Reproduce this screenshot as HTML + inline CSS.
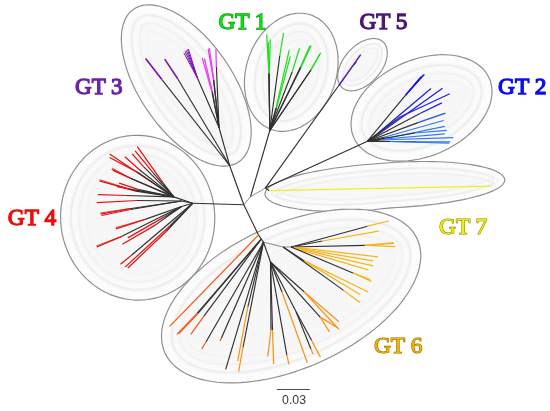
<!DOCTYPE html>
<html><head><meta charset="utf-8"><style>
html,body{margin:0;padding:0;background:#fff;width:550px;height:411px;overflow:hidden}
svg{display:block}
.lb{font-family:"Liberation Serif",serif;font-weight:normal;font-size:24px}
.sc{font-family:"Liberation Sans",sans-serif;font-size:13.3px;fill:#3a3a3a}
</style></head><body>
<svg width="550" height="411" viewBox="0 0 550 411">
<rect width="550" height="411" fill="#fff"/>
<path d="M239.0 161.7 L236.9 163.0 L234.7 164.1 L232.4 164.9 L229.9 165.5 L227.3 165.9 L224.6 166.1 L221.9 166.1 L219.0 165.8 L216.0 165.3 L212.9 164.6 L209.8 163.7 L206.6 162.6 L203.3 161.3 L200.0 159.7 L196.7 158.0 L193.3 156.0 L189.9 153.9 L186.5 151.5 L183.1 149.0 L179.7 146.3 L176.4 143.5 L173.0 140.5 L169.7 137.3 L166.4 134.0 L163.2 130.6 L160.1 127.0 L157.0 123.3 L154.0 119.5 L151.1 115.7 L148.3 111.7 L145.6 107.7 L143.0 103.6 L140.5 99.5 L138.2 95.3 L135.9 91.1 L133.9 86.9 L131.9 82.6 L130.1 78.4 L128.5 74.2 L127.0 70.1 L125.7 65.9 L124.6 61.9 L123.6 57.9 L122.8 53.9 L122.1 50.1 L121.7 46.3 L121.4 42.7 L121.3 39.2 L121.4 35.8 L121.6 32.5 L122.1 29.4 L122.7 26.5 L123.5 23.7 L124.4 21.0 L125.5 18.6 L126.8 16.3 L128.3 14.2 L129.9 12.4 L131.6 10.7 L133.6 9.2 L135.6 7.9 L137.8 6.9 L140.1 6.0 L142.6 5.4 L145.2 5.0 L147.9 4.8 L150.7 4.9 L153.6 5.1 L156.5 5.6 L159.6 6.3 L162.7 7.2 L165.9 8.4 L169.2 9.7 L172.5 11.2 L175.8 13.0 L179.2 14.9 L182.6 17.1 L186.0 19.4 L189.4 21.9 L192.8 24.6 L196.2 27.5 L199.5 30.5 L202.8 33.6 L206.1 37.0 L209.3 40.4 L212.4 44.0 L215.5 47.6 L218.5 51.4 L221.4 55.3 L224.2 59.2 L226.9 63.3 L229.5 67.4 L232.0 71.5 L234.4 75.7 L236.6 79.9 L238.7 84.1 L240.6 88.3 L242.4 92.5 L244.0 96.7 L245.5 100.9 L246.8 105.0 L247.9 109.1 L248.9 113.1 L249.7 117.0 L250.4 120.9 L250.8 124.6 L251.1 128.2 L251.2 131.8 L251.1 135.2 L250.9 138.4 L250.4 141.5 L249.8 144.5 L249.1 147.3 L248.1 149.9 L247.0 152.4 L245.7 154.6 L244.2 156.7 L242.6 158.6 L240.9 160.3Z" fill="#f7f7f7" stroke="none"/>
<path d="M236.4 158.0 L234.7 159.1 L233.0 159.9 L231.1 160.6 L229.0 161.1 L226.8 161.5 L224.5 161.6 L222.1 161.6 L219.5 161.4 L216.8 160.9 L214.0 160.3 L211.2 159.4 L208.2 158.4 L205.1 157.1 L202.0 155.7 L198.9 154.0 L195.6 152.2 L192.4 150.1 L189.1 147.9 L185.9 145.4 L182.6 142.8 L179.3 140.1 L176.1 137.2 L172.9 134.1 L169.7 130.9 L166.6 127.5 L163.5 124.1 L160.5 120.5 L157.6 116.8 L154.7 113.0 L152.0 109.2 L149.4 105.2 L146.8 101.2 L144.4 97.2 L142.1 93.1 L140.0 89.0 L137.9 84.9 L136.0 80.8 L134.3 76.7 L132.7 72.7 L131.3 68.6 L130.0 64.6 L128.9 60.7 L128.0 56.9 L127.2 53.1 L126.6 49.5 L126.2 45.9 L125.9 42.5 L125.8 39.2 L125.9 36.0 L126.1 33.0 L126.5 30.2 L127.0 27.5 L127.7 25.0 L128.6 22.7 L129.5 20.6 L130.6 18.7 L131.8 17.0 L133.1 15.5 L134.6 14.1 L136.1 12.9 L137.8 11.9 L139.6 11.0 L141.5 10.3 L143.5 9.8 L145.7 9.5 L148.0 9.3 L150.4 9.4 L153.0 9.6 L155.7 10.0 L158.5 10.7 L161.4 11.5 L164.3 12.6 L167.4 13.8 L170.5 15.3 L173.7 16.9 L176.9 18.8 L180.1 20.8 L183.4 23.1 L186.7 25.5 L189.9 28.1 L193.2 30.9 L196.4 33.8 L199.7 36.9 L202.8 40.1 L206.0 43.4 L209.0 46.9 L212.0 50.5 L214.9 54.2 L217.8 57.9 L220.5 61.8 L223.2 65.7 L225.7 69.7 L228.1 73.8 L230.4 77.8 L232.6 81.9 L234.6 86.0 L236.5 90.1 L238.2 94.2 L239.8 98.3 L241.2 102.3 L242.5 106.3 L243.6 110.2 L244.5 114.1 L245.3 117.8 L245.9 121.5 L246.3 125.0 L246.6 128.5 L246.7 131.8 L246.6 134.9 L246.4 137.9 L246.0 140.8 L245.5 143.4 L244.8 145.9 L243.9 148.2 L243.0 150.3 L241.9 152.2 L240.7 153.9 L239.4 155.5 L237.9 156.9Z" fill="none" stroke="#fcfcfc" stroke-width="7.0"/>
<path d="M233.0 153.1 L231.9 153.8 L230.6 154.4 L229.3 154.9 L227.8 155.2 L226.2 155.5 L224.4 155.6 L222.4 155.6 L220.3 155.4 L218.0 155.0 L215.6 154.5 L213.0 153.7 L210.3 152.8 L207.6 151.6 L204.7 150.3 L201.7 148.8 L198.7 147.0 L195.7 145.1 L192.6 143.0 L189.5 140.7 L186.4 138.2 L183.3 135.6 L180.2 132.8 L177.1 129.8 L174.0 126.7 L171.0 123.5 L168.0 120.1 L165.1 116.7 L162.3 113.1 L159.6 109.5 L156.9 105.7 L154.4 101.9 L151.9 98.1 L149.6 94.2 L147.4 90.3 L145.3 86.3 L143.3 82.3 L141.5 78.4 L139.9 74.5 L138.3 70.6 L137.0 66.7 L135.8 62.9 L134.7 59.2 L133.8 55.6 L133.1 52.0 L132.5 48.6 L132.1 45.3 L131.9 42.1 L131.8 39.1 L131.9 36.3 L132.1 33.7 L132.4 31.2 L132.9 28.9 L133.5 26.9 L134.1 25.0 L134.9 23.4 L135.7 21.9 L136.6 20.7 L137.5 19.6 L138.5 18.6 L139.5 17.8 L140.6 17.2 L141.9 16.6 L143.2 16.1 L144.7 15.7 L146.3 15.4 L148.1 15.3 L150.1 15.4 L152.2 15.5 L154.5 15.9 L157.0 16.5 L159.5 17.2 L162.2 18.2 L165.0 19.3 L167.8 20.6 L170.8 22.2 L173.8 23.9 L176.8 25.9 L179.9 28.0 L183.0 30.3 L186.1 32.7 L189.3 35.4 L192.4 38.2 L195.5 41.1 L198.5 44.2 L201.5 47.5 L204.5 50.8 L207.4 54.3 L210.2 57.8 L212.9 61.5 L215.6 65.2 L218.1 69.0 L220.6 72.9 L222.9 76.8 L225.1 80.7 L227.2 84.6 L229.2 88.6 L231.0 92.6 L232.7 96.5 L234.2 100.4 L235.5 104.2 L236.7 108.0 L237.8 111.8 L238.7 115.4 L239.4 118.9 L240.0 122.3 L240.4 125.6 L240.6 128.8 L240.7 131.8 L240.6 134.6 L240.4 137.3 L240.1 139.8 L239.6 142.0 L239.1 144.1 L238.4 145.9 L237.6 147.6 L236.8 149.0 L235.9 150.3 L235.0 151.4 L234.0 152.3Z" fill="none" stroke="#eeeeee" stroke-width="1.8"/>
<path d="M231.0 150.2 L230.2 150.7 L229.3 151.2 L228.3 151.5 L227.1 151.8 L225.8 152.0 L224.3 152.1 L222.6 152.1 L220.7 151.9 L218.7 151.6 L216.4 151.1 L214.1 150.4 L211.6 149.5 L209.0 148.4 L206.2 147.2 L203.4 145.7 L200.6 144.0 L197.6 142.2 L194.6 140.1 L191.6 137.9 L188.6 135.5 L185.6 132.9 L182.5 130.2 L179.5 127.3 L176.5 124.3 L173.6 121.1 L170.7 117.9 L167.9 114.5 L165.1 111.0 L162.4 107.4 L159.8 103.8 L157.3 100.0 L154.9 96.2 L152.6 92.4 L150.5 88.6 L148.4 84.7 L146.5 80.8 L144.7 77.0 L143.1 73.1 L141.6 69.3 L140.3 65.6 L139.1 61.9 L138.1 58.3 L137.2 54.8 L136.5 51.4 L136.0 48.1 L135.6 45.0 L135.4 42.0 L135.3 39.1 L135.4 36.5 L135.6 34.0 L135.9 31.8 L136.3 29.7 L136.8 27.9 L137.4 26.3 L138.0 25.0 L138.7 23.8 L139.3 22.8 L140.0 22.0 L140.8 21.3 L141.5 20.7 L142.3 20.2 L143.2 19.8 L144.2 19.4 L145.4 19.1 L146.7 18.9 L148.2 18.8 L149.9 18.9 L151.8 19.0 L153.9 19.3 L156.1 19.9 L158.4 20.5 L160.9 21.4 L163.5 22.5 L166.3 23.8 L169.1 25.3 L172.0 26.9 L174.9 28.8 L177.9 30.8 L180.9 33.0 L183.9 35.4 L187.0 38.0 L190.0 40.7 L193.0 43.6 L196.0 46.7 L198.9 49.8 L201.8 53.1 L204.7 56.5 L207.4 60.0 L210.1 63.5 L212.7 67.2 L215.2 70.9 L217.6 74.7 L219.9 78.5 L222.1 82.4 L224.1 86.2 L226.0 90.1 L227.8 94.0 L229.4 97.8 L230.9 101.6 L232.2 105.4 L233.4 109.0 L234.4 112.6 L235.3 116.2 L236.0 119.6 L236.5 122.8 L236.9 126.0 L237.1 129.0 L237.2 131.8 L237.1 134.5 L237.0 136.9 L236.6 139.2 L236.2 141.2 L235.7 143.0 L235.1 144.6 L234.5 146.0 L233.9 147.2 L233.2 148.1 L232.5 149.0 L231.8 149.6Z" fill="none" stroke="#fafafa" stroke-width="4.0"/>
<path d="M228.4 146.5 L228.0 146.8 L227.6 147.0 L227.0 147.2 L226.2 147.4 L225.3 147.5 L224.2 147.6 L222.8 147.6 L221.3 147.5 L219.5 147.2 L217.6 146.7 L215.5 146.1 L213.2 145.3 L210.8 144.3 L208.2 143.1 L205.6 141.8 L202.9 140.2 L200.1 138.4 L197.3 136.5 L194.4 134.3 L191.5 132.0 L188.5 129.5 L185.6 126.9 L182.7 124.1 L179.8 121.2 L176.9 118.1 L174.1 114.9 L171.3 111.6 L168.7 108.2 L166.0 104.8 L163.5 101.2 L161.1 97.6 L158.7 93.9 L156.5 90.2 L154.4 86.4 L152.4 82.7 L150.6 78.9 L148.8 75.2 L147.3 71.4 L145.8 67.8 L144.6 64.2 L143.4 60.6 L142.5 57.2 L141.6 53.8 L141.0 50.6 L140.5 47.5 L140.1 44.5 L139.9 41.7 L139.8 39.1 L139.9 36.7 L140.0 34.5 L140.3 32.5 L140.7 30.8 L141.1 29.3 L141.5 28.0 L142.0 27.0 L142.5 26.2 L142.9 25.6 L143.3 25.1 L143.7 24.7 L144.1 24.4 L144.5 24.2 L145.0 23.9 L145.6 23.7 L146.3 23.5 L147.2 23.4 L148.4 23.3 L149.7 23.3 L151.2 23.5 L153.0 23.8 L154.9 24.2 L157.1 24.8 L159.3 25.6 L161.7 26.6 L164.3 27.8 L166.9 29.2 L169.6 30.8 L172.4 32.5 L175.3 34.5 L178.1 36.6 L181.1 38.9 L184.0 41.4 L186.9 44.0 L189.8 46.8 L192.7 49.8 L195.6 52.8 L198.4 56.0 L201.2 59.3 L203.9 62.7 L206.5 66.2 L209.0 69.8 L211.4 73.4 L213.8 77.1 L216.0 80.8 L218.1 84.5 L220.1 88.3 L221.9 92.0 L223.7 95.8 L225.2 99.5 L226.7 103.2 L228.0 106.8 L229.1 110.3 L230.1 113.8 L230.9 117.1 L231.5 120.4 L232.1 123.5 L232.4 126.4 L232.6 129.2 L232.7 131.8 L232.7 134.2 L232.5 136.4 L232.2 138.4 L231.9 140.1 L231.4 141.6 L231.0 142.9 L230.5 143.9 L230.1 144.8 L229.6 145.4 L229.2 145.9 L228.8 146.2Z" fill="none" stroke="#f1f1f1" stroke-width="1.6"/>
<path d="M224.2 140.4 L224.4 140.2 L224.7 140.1 L224.8 140.0 L224.7 140.1 L224.5 140.1 L224.0 140.1 L223.2 140.1 L222.2 140.0 L220.9 139.8 L219.5 139.5 L217.8 139.0 L215.9 138.3 L213.8 137.5 L211.6 136.4 L209.2 135.2 L206.8 133.8 L204.2 132.2 L201.6 130.4 L198.9 128.4 L196.2 126.2 L193.5 123.9 L190.7 121.4 L187.9 118.8 L185.2 116.0 L182.5 113.1 L179.8 110.0 L177.2 106.9 L174.6 103.7 L172.1 100.3 L169.7 96.9 L167.4 93.5 L165.1 90.0 L163.0 86.4 L161.0 82.8 L159.1 79.3 L157.3 75.7 L155.7 72.1 L154.2 68.6 L152.9 65.2 L151.7 61.8 L150.6 58.5 L149.7 55.2 L149.0 52.2 L148.3 49.2 L147.9 46.4 L147.6 43.8 L147.4 41.3 L147.3 39.1 L147.3 37.1 L147.5 35.3 L147.7 33.8 L147.9 32.6 L148.2 31.6 L148.5 30.9 L148.7 30.4 L148.8 30.2 L148.8 30.1 L148.8 30.2 L148.6 30.4 L148.3 30.6 L148.1 30.8 L147.9 30.9 L147.7 30.9 L147.8 30.9 L148.1 30.9 L148.6 30.8 L149.3 30.8 L150.3 30.9 L151.6 31.1 L153.1 31.5 L154.8 32.0 L156.6 32.6 L158.7 33.5 L160.9 34.5 L163.3 35.8 L165.7 37.2 L168.3 38.8 L170.9 40.6 L173.6 42.6 L176.3 44.7 L179.1 47.1 L181.8 49.5 L184.6 52.2 L187.3 55.0 L190.0 57.9 L192.7 60.9 L195.4 64.0 L197.9 67.3 L200.4 70.6 L202.8 74.0 L205.2 77.5 L207.4 81.0 L209.5 84.5 L211.5 88.1 L213.4 91.7 L215.2 95.3 L216.8 98.8 L218.3 102.3 L219.6 105.8 L220.8 109.2 L221.9 112.5 L222.8 115.7 L223.6 118.8 L224.2 121.8 L224.6 124.6 L225.0 127.2 L225.1 129.6 L225.2 131.9 L225.2 133.9 L225.0 135.6 L224.8 137.1 L224.6 138.4 L224.3 139.4 L224.0 140.1 L223.8 140.5 L223.7 140.8 L223.7 140.8 L223.8 140.7 L223.9 140.5Z" fill="none" stroke="#f3f3f3" stroke-width="1.5"/>
<path d="M239.0 161.7 L236.9 163.0 L234.7 164.1 L232.4 164.9 L229.9 165.5 L227.3 165.9 L224.6 166.1 L221.9 166.1 L219.0 165.8 L216.0 165.3 L212.9 164.6 L209.8 163.7 L206.6 162.6 L203.3 161.3 L200.0 159.7 L196.7 158.0 L193.3 156.0 L189.9 153.9 L186.5 151.5 L183.1 149.0 L179.7 146.3 L176.4 143.5 L173.0 140.5 L169.7 137.3 L166.4 134.0 L163.2 130.6 L160.1 127.0 L157.0 123.3 L154.0 119.5 L151.1 115.7 L148.3 111.7 L145.6 107.7 L143.0 103.6 L140.5 99.5 L138.2 95.3 L135.9 91.1 L133.9 86.9 L131.9 82.6 L130.1 78.4 L128.5 74.2 L127.0 70.1 L125.7 65.9 L124.6 61.9 L123.6 57.9 L122.8 53.9 L122.1 50.1 L121.7 46.3 L121.4 42.7 L121.3 39.2 L121.4 35.8 L121.6 32.5 L122.1 29.4 L122.7 26.5 L123.5 23.7 L124.4 21.0 L125.5 18.6 L126.8 16.3 L128.3 14.2 L129.9 12.4 L131.6 10.7 L133.6 9.2 L135.6 7.9 L137.8 6.9 L140.1 6.0 L142.6 5.4 L145.2 5.0 L147.9 4.8 L150.7 4.9 L153.6 5.1 L156.5 5.6 L159.6 6.3 L162.7 7.2 L165.9 8.4 L169.2 9.7 L172.5 11.2 L175.8 13.0 L179.2 14.9 L182.6 17.1 L186.0 19.4 L189.4 21.9 L192.8 24.6 L196.2 27.5 L199.5 30.5 L202.8 33.6 L206.1 37.0 L209.3 40.4 L212.4 44.0 L215.5 47.6 L218.5 51.4 L221.4 55.3 L224.2 59.2 L226.9 63.3 L229.5 67.4 L232.0 71.5 L234.4 75.7 L236.6 79.9 L238.7 84.1 L240.6 88.3 L242.4 92.5 L244.0 96.7 L245.5 100.9 L246.8 105.0 L247.9 109.1 L248.9 113.1 L249.7 117.0 L250.4 120.9 L250.8 124.6 L251.1 128.2 L251.2 131.8 L251.1 135.2 L250.9 138.4 L250.4 141.5 L249.8 144.5 L249.1 147.3 L248.1 149.9 L247.0 152.4 L245.7 154.6 L244.2 156.7 L242.6 158.6 L240.9 160.3Z" fill="none" stroke="#8e8e8e" stroke-width="1.15"/>
<path d="M311.0 15.0 L313.2 15.9 L315.3 16.9 L317.4 18.0 L319.4 19.3 L321.3 20.8 L323.1 22.4 L324.9 24.1 L326.6 25.9 L328.1 27.9 L329.6 30.0 L331.0 32.2 L332.2 34.6 L333.3 37.0 L334.4 39.5 L335.3 42.2 L336.1 44.9 L336.7 47.6 L337.3 50.5 L337.7 53.4 L338.0 56.3 L338.1 59.3 L338.1 62.4 L338.0 65.4 L337.8 68.5 L337.4 71.6 L337.0 74.7 L336.4 77.8 L335.6 80.8 L334.8 83.9 L333.8 86.9 L332.7 89.9 L331.5 92.8 L330.2 95.7 L328.8 98.5 L327.2 101.2 L325.6 103.9 L323.9 106.4 L322.1 108.9 L320.2 111.3 L318.2 113.5 L316.2 115.7 L314.1 117.7 L311.9 119.6 L309.7 121.4 L307.4 123.1 L305.1 124.6 L302.7 125.9 L300.3 127.2 L297.9 128.2 L295.5 129.1 L293.0 129.9 L290.6 130.5 L288.1 130.9 L285.7 131.2 L283.2 131.3 L280.8 131.3 L278.5 131.1 L276.1 130.7 L273.8 130.2 L271.6 129.5 L269.4 128.6 L267.2 127.6 L265.1 126.5 L263.1 125.2 L261.2 123.7 L259.4 122.1 L257.6 120.4 L256.0 118.6 L254.4 116.6 L252.9 114.5 L251.6 112.3 L250.3 109.9 L249.2 107.5 L248.2 105.0 L247.3 102.4 L246.5 99.7 L245.8 96.9 L245.3 94.0 L244.9 91.1 L244.6 88.2 L244.4 85.2 L244.4 82.1 L244.5 79.1 L244.7 76.0 L245.1 72.9 L245.6 69.8 L246.2 66.7 L246.9 63.7 L247.8 60.6 L248.7 57.6 L249.8 54.6 L251.0 51.7 L252.3 48.8 L253.8 46.0 L255.3 43.3 L256.9 40.6 L258.6 38.1 L260.4 35.6 L262.3 33.2 L264.3 31.0 L266.3 28.8 L268.4 26.8 L270.6 24.9 L272.8 23.1 L275.1 21.4 L277.4 19.9 L279.8 18.6 L282.2 17.4 L284.6 16.3 L287.1 15.4 L289.5 14.6 L292.0 14.0 L294.4 13.6 L296.9 13.3 L299.3 13.2 L301.7 13.2 L304.1 13.5 L306.4 13.8 L308.7 14.3Z" fill="#f7f7f7" stroke="none"/>
<path d="M309.5 19.3 L311.4 20.0 L313.3 20.9 L315.1 21.9 L316.8 23.0 L318.5 24.3 L320.1 25.7 L321.6 27.2 L323.1 28.8 L324.5 30.6 L325.8 32.5 L327.1 34.5 L328.2 36.6 L329.2 38.8 L330.2 41.1 L331.0 43.5 L331.7 46.0 L332.3 48.6 L332.8 51.2 L333.2 53.9 L333.5 56.7 L333.6 59.5 L333.6 62.3 L333.5 65.2 L333.3 68.1 L333.0 71.0 L332.5 73.9 L332.0 76.8 L331.3 79.7 L330.5 82.6 L329.5 85.4 L328.5 88.2 L327.4 91.0 L326.1 93.7 L324.8 96.4 L323.4 98.9 L321.8 101.4 L320.2 103.9 L318.5 106.2 L316.8 108.4 L314.9 110.5 L313.0 112.5 L311.0 114.4 L309.0 116.2 L307.0 117.8 L304.9 119.4 L302.7 120.7 L300.6 122.0 L298.4 123.1 L296.2 124.1 L294.0 124.9 L291.8 125.5 L289.6 126.1 L287.5 126.5 L285.3 126.7 L283.2 126.8 L281.1 126.8 L279.0 126.6 L277.0 126.3 L275.0 125.8 L273.0 125.2 L271.1 124.5 L269.3 123.6 L267.5 122.6 L265.7 121.5 L264.0 120.2 L262.4 118.8 L260.9 117.3 L259.4 115.7 L258.0 113.9 L256.7 112.0 L255.5 110.0 L254.3 107.9 L253.3 105.7 L252.4 103.4 L251.5 101.0 L250.8 98.5 L250.2 95.9 L249.7 93.3 L249.3 90.6 L249.1 87.8 L248.9 85.0 L248.9 82.2 L249.0 79.3 L249.2 76.4 L249.5 73.5 L250.0 70.6 L250.6 67.7 L251.3 64.8 L252.1 61.9 L253.0 59.1 L254.0 56.3 L255.1 53.5 L256.4 50.8 L257.7 48.1 L259.2 45.6 L260.7 43.1 L262.3 40.7 L264.0 38.3 L265.8 36.1 L267.6 34.0 L269.5 32.0 L271.5 30.1 L273.5 28.3 L275.6 26.7 L277.7 25.2 L279.8 23.8 L282.0 22.5 L284.1 21.4 L286.3 20.5 L288.5 19.6 L290.7 19.0 L292.9 18.4 L295.1 18.0 L297.2 17.8 L299.4 17.7 L301.5 17.7 L303.5 17.9 L305.6 18.2 L307.6 18.7Z" fill="none" stroke="#fcfcfc" stroke-width="7.0"/>
<path d="M307.5 25.0 L309.1 25.5 L310.5 26.2 L312.0 27.0 L313.4 27.9 L314.7 29.0 L316.0 30.1 L317.3 31.3 L318.5 32.7 L319.7 34.2 L320.8 35.8 L321.8 37.5 L322.8 39.3 L323.7 41.2 L324.5 43.2 L325.3 45.3 L325.9 47.5 L326.4 49.8 L326.9 52.2 L327.2 54.6 L327.5 57.1 L327.6 59.7 L327.6 62.2 L327.5 64.9 L327.4 67.5 L327.0 70.2 L326.6 72.9 L326.1 75.5 L325.5 78.2 L324.7 80.9 L323.9 83.5 L322.9 86.1 L321.9 88.6 L320.7 91.1 L319.5 93.6 L318.2 95.9 L316.8 98.2 L315.3 100.4 L313.8 102.5 L312.1 104.6 L310.5 106.5 L308.7 108.3 L307.0 110.0 L305.2 111.6 L303.3 113.1 L301.5 114.4 L299.6 115.6 L297.7 116.7 L295.8 117.7 L293.9 118.5 L292.1 119.2 L290.2 119.8 L288.4 120.2 L286.6 120.5 L284.8 120.7 L283.1 120.8 L281.4 120.8 L279.7 120.6 L278.1 120.4 L276.5 120.0 L275.0 119.5 L273.5 119.0 L272.0 118.3 L270.6 117.5 L269.2 116.6 L267.8 115.6 L266.5 114.4 L265.2 113.2 L264.0 111.8 L262.8 110.3 L261.7 108.7 L260.7 107.0 L259.7 105.2 L258.8 103.3 L258.0 101.3 L257.3 99.2 L256.6 97.0 L256.1 94.7 L255.6 92.3 L255.3 89.9 L255.0 87.4 L254.9 84.9 L254.9 82.3 L255.0 79.6 L255.2 77.0 L255.5 74.3 L255.9 71.7 L256.4 69.0 L257.1 66.3 L257.8 63.7 L258.7 61.0 L259.6 58.4 L260.7 55.9 L261.8 53.4 L263.0 51.0 L264.3 48.6 L265.7 46.3 L267.2 44.1 L268.8 42.0 L270.4 39.9 L272.1 38.0 L273.8 36.2 L275.5 34.5 L277.4 32.9 L279.2 31.4 L281.0 30.1 L282.9 28.9 L284.8 27.8 L286.7 26.8 L288.6 26.0 L290.4 25.3 L292.3 24.7 L294.1 24.3 L295.9 24.0 L297.7 23.8 L299.4 23.7 L301.1 23.7 L302.8 23.9 L304.4 24.1 L306.0 24.5Z" fill="none" stroke="#eeeeee" stroke-width="1.8"/>
<path d="M306.4 28.3 L307.7 28.8 L308.9 29.4 L310.2 30.0 L311.4 30.8 L312.5 31.7 L313.7 32.7 L314.8 33.8 L315.9 35.0 L316.9 36.3 L317.9 37.7 L318.8 39.2 L319.7 40.9 L320.5 42.6 L321.3 44.4 L321.9 46.4 L322.5 48.4 L323.0 50.6 L323.4 52.8 L323.8 55.0 L324.0 57.4 L324.1 59.8 L324.1 62.2 L324.1 64.7 L323.9 67.2 L323.6 69.7 L323.2 72.3 L322.7 74.8 L322.1 77.3 L321.4 79.8 L320.6 82.3 L319.7 84.8 L318.7 87.2 L317.6 89.6 L316.4 91.9 L315.2 94.2 L313.8 96.3 L312.4 98.4 L311.0 100.4 L309.5 102.3 L307.9 104.1 L306.3 105.8 L304.6 107.4 L302.9 108.9 L301.2 110.3 L299.5 111.5 L297.8 112.6 L296.0 113.6 L294.3 114.5 L292.6 115.3 L290.9 115.9 L289.3 116.4 L287.7 116.8 L286.1 117.1 L284.5 117.2 L283.0 117.3 L281.6 117.3 L280.2 117.2 L278.8 116.9 L277.4 116.6 L276.1 116.2 L274.8 115.7 L273.6 115.2 L272.4 114.5 L271.2 113.7 L270.0 112.8 L268.9 111.8 L267.7 110.8 L266.7 109.6 L265.6 108.2 L264.7 106.8 L263.7 105.3 L262.8 103.7 L262.0 101.9 L261.3 100.1 L260.6 98.1 L260.0 96.1 L259.5 94.0 L259.1 91.8 L258.8 89.5 L258.5 87.1 L258.4 84.8 L258.4 82.3 L258.5 79.8 L258.7 77.3 L259.0 74.8 L259.3 72.3 L259.8 69.7 L260.5 67.2 L261.2 64.7 L262.0 62.2 L262.9 59.7 L263.9 57.3 L264.9 54.9 L266.1 52.6 L267.4 50.4 L268.7 48.2 L270.1 46.1 L271.6 44.1 L273.1 42.2 L274.6 40.4 L276.3 38.7 L277.9 37.1 L279.6 35.6 L281.3 34.2 L283.0 33.0 L284.8 31.9 L286.5 30.9 L288.2 30.0 L289.9 29.3 L291.6 28.6 L293.2 28.1 L294.9 27.7 L296.4 27.4 L298.0 27.3 L299.5 27.2 L300.9 27.2 L302.4 27.3 L303.8 27.6 L305.1 27.9Z" fill="none" stroke="#fafafa" stroke-width="4.0"/>
<path d="M304.9 32.5 L305.9 32.9 L306.9 33.4 L307.8 33.9 L308.8 34.5 L309.7 35.2 L310.6 36.0 L311.5 36.9 L312.4 37.9 L313.3 38.9 L314.1 40.1 L314.9 41.5 L315.7 42.9 L316.4 44.4 L317.0 46.0 L317.6 47.8 L318.2 49.6 L318.6 51.5 L319.0 53.5 L319.3 55.6 L319.5 57.7 L319.6 59.9 L319.6 62.1 L319.6 64.4 L319.4 66.8 L319.1 69.1 L318.7 71.5 L318.3 73.8 L317.7 76.2 L317.1 78.6 L316.3 80.9 L315.5 83.2 L314.5 85.4 L313.5 87.6 L312.4 89.8 L311.3 91.9 L310.0 93.9 L308.7 95.8 L307.4 97.7 L306.0 99.5 L304.5 101.1 L303.1 102.7 L301.6 104.1 L300.0 105.5 L298.5 106.7 L297.0 107.8 L295.4 108.8 L293.9 109.7 L292.4 110.4 L290.9 111.1 L289.5 111.6 L288.1 112.1 L286.7 112.4 L285.4 112.6 L284.2 112.8 L283.0 112.8 L281.8 112.8 L280.7 112.7 L279.6 112.5 L278.6 112.3 L277.6 112.0 L276.6 111.6 L275.6 111.2 L274.7 110.6 L273.7 110.0 L272.8 109.3 L271.9 108.5 L271.0 107.6 L270.1 106.7 L269.3 105.6 L268.4 104.4 L267.6 103.1 L266.9 101.6 L266.1 100.1 L265.5 98.5 L264.9 96.8 L264.4 94.9 L263.9 93.0 L263.5 91.0 L263.2 89.0 L263.0 86.8 L262.9 84.6 L262.9 82.4 L263.0 80.1 L263.1 77.8 L263.4 75.4 L263.8 73.0 L264.2 70.7 L264.8 68.3 L265.5 66.0 L266.2 63.6 L267.1 61.3 L268.0 59.1 L269.0 56.9 L270.1 54.7 L271.3 52.6 L272.5 50.6 L273.8 48.7 L275.1 46.8 L276.5 45.1 L278.0 43.4 L279.5 41.8 L281.0 40.4 L282.5 39.0 L284.0 37.8 L285.6 36.7 L287.1 35.7 L288.6 34.8 L290.1 34.1 L291.6 33.4 L293.0 32.9 L294.4 32.5 L295.8 32.1 L297.1 31.9 L298.3 31.8 L299.6 31.7 L300.7 31.7 L301.8 31.8 L302.9 32.0 L303.9 32.2Z" fill="none" stroke="#f1f1f1" stroke-width="1.6"/>
<path d="M302.5 39.6 L303.0 39.8 L303.5 40.0 L304.0 40.3 L304.5 40.6 L305.0 41.0 L305.5 41.5 L306.1 42.0 L306.7 42.7 L307.2 43.4 L307.8 44.2 L308.4 45.2 L309.0 46.2 L309.5 47.4 L310.0 48.7 L310.5 50.0 L310.9 51.5 L311.3 53.1 L311.6 54.7 L311.8 56.4 L312.0 58.2 L312.1 60.1 L312.1 62.1 L312.1 64.0 L311.9 66.0 L311.7 68.1 L311.4 70.2 L311.0 72.2 L310.5 74.3 L309.9 76.4 L309.2 78.4 L308.5 80.5 L307.7 82.4 L306.8 84.4 L305.8 86.3 L304.8 88.1 L303.7 89.9 L302.6 91.5 L301.4 93.1 L300.2 94.7 L299.0 96.1 L297.7 97.4 L296.5 98.6 L295.2 99.7 L294.0 100.7 L292.7 101.6 L291.5 102.4 L290.3 103.1 L289.2 103.7 L288.1 104.1 L287.1 104.5 L286.1 104.8 L285.2 105.0 L284.4 105.2 L283.6 105.3 L282.9 105.3 L282.2 105.3 L281.6 105.3 L281.1 105.2 L280.5 105.0 L280.0 104.9 L279.5 104.7 L279.0 104.5 L278.5 104.2 L278.0 103.9 L277.5 103.5 L277.0 103.0 L276.4 102.5 L275.9 101.8 L275.3 101.1 L274.7 100.3 L274.1 99.3 L273.6 98.3 L273.0 97.1 L272.5 95.9 L272.0 94.5 L271.6 93.0 L271.2 91.5 L270.9 89.8 L270.7 88.1 L270.5 86.3 L270.4 84.4 L270.4 82.5 L270.5 80.5 L270.6 78.5 L270.8 76.4 L271.2 74.3 L271.6 72.3 L272.1 70.2 L272.6 68.1 L273.3 66.1 L274.1 64.1 L274.9 62.1 L275.8 60.1 L276.7 58.2 L277.7 56.4 L278.8 54.6 L279.9 53.0 L281.1 51.4 L282.3 49.9 L283.5 48.4 L284.8 47.1 L286.0 45.9 L287.3 44.8 L288.6 43.8 L289.8 42.9 L291.0 42.1 L292.2 41.4 L293.3 40.9 L294.4 40.4 L295.5 40.0 L296.4 39.7 L297.3 39.5 L298.2 39.3 L298.9 39.2 L299.7 39.2 L300.3 39.2 L300.9 39.3 L301.5 39.3 L302.0 39.5Z" fill="none" stroke="#f3f3f3" stroke-width="1.5"/>
<path d="M311.0 15.0 L313.2 15.9 L315.3 16.9 L317.4 18.0 L319.4 19.3 L321.3 20.8 L323.1 22.4 L324.9 24.1 L326.6 25.9 L328.1 27.9 L329.6 30.0 L331.0 32.2 L332.2 34.6 L333.3 37.0 L334.4 39.5 L335.3 42.2 L336.1 44.9 L336.7 47.6 L337.3 50.5 L337.7 53.4 L338.0 56.3 L338.1 59.3 L338.1 62.4 L338.0 65.4 L337.8 68.5 L337.4 71.6 L337.0 74.7 L336.4 77.8 L335.6 80.8 L334.8 83.9 L333.8 86.9 L332.7 89.9 L331.5 92.8 L330.2 95.7 L328.8 98.5 L327.2 101.2 L325.6 103.9 L323.9 106.4 L322.1 108.9 L320.2 111.3 L318.2 113.5 L316.2 115.7 L314.1 117.7 L311.9 119.6 L309.7 121.4 L307.4 123.1 L305.1 124.6 L302.7 125.9 L300.3 127.2 L297.9 128.2 L295.5 129.1 L293.0 129.9 L290.6 130.5 L288.1 130.9 L285.7 131.2 L283.2 131.3 L280.8 131.3 L278.5 131.1 L276.1 130.7 L273.8 130.2 L271.6 129.5 L269.4 128.6 L267.2 127.6 L265.1 126.5 L263.1 125.2 L261.2 123.7 L259.4 122.1 L257.6 120.4 L256.0 118.6 L254.4 116.6 L252.9 114.5 L251.6 112.3 L250.3 109.9 L249.2 107.5 L248.2 105.0 L247.3 102.4 L246.5 99.7 L245.8 96.9 L245.3 94.0 L244.9 91.1 L244.6 88.2 L244.4 85.2 L244.4 82.1 L244.5 79.1 L244.7 76.0 L245.1 72.9 L245.6 69.8 L246.2 66.7 L246.9 63.7 L247.8 60.6 L248.7 57.6 L249.8 54.6 L251.0 51.7 L252.3 48.8 L253.8 46.0 L255.3 43.3 L256.9 40.6 L258.6 38.1 L260.4 35.6 L262.3 33.2 L264.3 31.0 L266.3 28.8 L268.4 26.8 L270.6 24.9 L272.8 23.1 L275.1 21.4 L277.4 19.9 L279.8 18.6 L282.2 17.4 L284.6 16.3 L287.1 15.4 L289.5 14.6 L292.0 14.0 L294.4 13.6 L296.9 13.3 L299.3 13.2 L301.7 13.2 L304.1 13.5 L306.4 13.8 L308.7 14.3Z" fill="none" stroke="#8e8e8e" stroke-width="1.15"/>
<path d="M382.9 41.7 L383.6 42.4 L384.3 43.1 L384.9 43.9 L385.4 44.8 L385.9 45.7 L386.3 46.7 L386.6 47.7 L386.9 48.8 L387.1 49.9 L387.2 51.0 L387.3 52.2 L387.3 53.4 L387.2 54.7 L387.1 56.0 L386.9 57.3 L386.6 58.6 L386.3 59.9 L385.9 61.3 L385.5 62.7 L384.9 64.0 L384.3 65.4 L383.7 66.8 L383.0 68.1 L382.2 69.5 L381.4 70.8 L380.6 72.1 L379.6 73.4 L378.7 74.7 L377.7 76.0 L376.6 77.2 L375.5 78.4 L374.4 79.5 L373.3 80.6 L372.1 81.7 L370.9 82.7 L369.6 83.7 L368.4 84.6 L367.1 85.4 L365.8 86.2 L364.5 87.0 L363.2 87.7 L361.9 88.3 L360.6 88.8 L359.4 89.3 L358.1 89.8 L356.8 90.1 L355.5 90.4 L354.3 90.6 L353.1 90.7 L351.9 90.8 L350.7 90.8 L349.6 90.7 L348.5 90.6 L347.5 90.4 L346.5 90.1 L345.5 89.7 L344.6 89.3 L343.7 88.8 L342.9 88.3 L342.1 87.6 L341.4 86.9 L340.8 86.2 L340.2 85.4 L339.6 84.5 L339.2 83.6 L338.8 82.6 L338.4 81.6 L338.1 80.5 L337.9 79.4 L337.8 78.3 L337.7 77.1 L337.7 75.9 L337.8 74.6 L337.9 73.3 L338.1 72.0 L338.4 70.7 L338.7 69.4 L339.1 68.0 L339.6 66.7 L340.1 65.3 L340.7 63.9 L341.3 62.5 L342.0 61.2 L342.8 59.8 L343.6 58.5 L344.5 57.2 L345.4 55.9 L346.3 54.6 L347.4 53.3 L348.4 52.1 L349.5 50.9 L350.6 49.8 L351.8 48.7 L352.9 47.6 L354.2 46.6 L355.4 45.6 L356.6 44.7 L357.9 43.9 L359.2 43.1 L360.5 42.3 L361.8 41.6 L363.1 41.0 L364.4 40.5 L365.7 40.0 L367.0 39.5 L368.2 39.2 L369.5 38.9 L370.7 38.7 L371.9 38.6 L373.1 38.5 L374.3 38.5 L375.4 38.6 L376.5 38.7 L377.5 38.9 L378.6 39.2 L379.5 39.6 L380.4 40.0 L381.3 40.5 L382.1 41.1Z" fill="#f7f7f7" stroke="none"/>
<path d="M381.3 43.4 L381.9 44.0 L382.4 44.6 L382.9 45.2 L383.3 45.9 L383.7 46.7 L384.1 47.5 L384.3 48.4 L384.6 49.3 L384.8 50.2 L384.9 51.2 L384.9 52.3 L384.9 53.4 L384.9 54.5 L384.8 55.7 L384.6 56.9 L384.3 58.1 L384.0 59.3 L383.7 60.6 L383.2 61.8 L382.7 63.1 L382.2 64.4 L381.6 65.7 L380.9 67.0 L380.2 68.3 L379.4 69.6 L378.6 70.8 L377.7 72.0 L376.8 73.3 L375.9 74.5 L374.9 75.6 L373.8 76.7 L372.8 77.8 L371.7 78.9 L370.5 79.9 L369.4 80.9 L368.2 81.8 L367.0 82.7 L365.8 83.5 L364.6 84.2 L363.4 84.9 L362.2 85.6 L361.0 86.1 L359.8 86.7 L358.6 87.1 L357.4 87.5 L356.2 87.8 L355.1 88.1 L354.0 88.3 L352.9 88.4 L351.8 88.5 L350.8 88.5 L349.9 88.4 L348.9 88.3 L348.0 88.1 L347.2 87.8 L346.4 87.5 L345.7 87.2 L345.0 86.8 L344.3 86.4 L343.7 85.9 L343.1 85.3 L342.6 84.7 L342.1 84.1 L341.7 83.4 L341.3 82.6 L341.0 81.8 L340.7 80.9 L340.4 80.0 L340.3 79.1 L340.1 78.1 L340.1 77.0 L340.1 75.9 L340.1 74.8 L340.3 73.6 L340.4 72.4 L340.7 71.2 L341.0 70.0 L341.4 68.7 L341.8 67.5 L342.3 66.2 L342.8 64.9 L343.4 63.6 L344.1 62.3 L344.8 61.0 L345.6 59.8 L346.4 58.5 L347.3 57.3 L348.2 56.0 L349.2 54.9 L350.2 53.7 L351.2 52.6 L352.3 51.5 L353.4 50.4 L354.5 49.4 L355.6 48.4 L356.8 47.5 L358.0 46.7 L359.2 45.8 L360.4 45.1 L361.6 44.4 L362.8 43.7 L364.1 43.2 L365.3 42.6 L366.5 42.2 L367.6 41.8 L368.8 41.5 L369.9 41.2 L371.1 41.0 L372.1 40.9 L373.2 40.9 L374.2 40.9 L375.2 40.9 L376.1 41.0 L377.0 41.2 L377.8 41.5 L378.6 41.8 L379.4 42.1 L380.1 42.5 L380.7 42.9Z" fill="none" stroke="#fcfcfc" stroke-width="3.7"/>
<path d="M379.3 45.8 L379.6 46.2 L380.0 46.6 L380.3 47.0 L380.6 47.5 L380.9 48.0 L381.1 48.6 L381.3 49.3 L381.5 50.0 L381.6 50.7 L381.7 51.5 L381.8 52.4 L381.8 53.3 L381.8 54.3 L381.7 55.3 L381.5 56.3 L381.3 57.4 L381.0 58.5 L380.7 59.6 L380.3 60.8 L379.8 61.9 L379.3 63.1 L378.8 64.3 L378.1 65.5 L377.5 66.7 L376.8 67.9 L376.0 69.0 L375.2 70.2 L374.3 71.3 L373.4 72.4 L372.5 73.5 L371.5 74.6 L370.5 75.6 L369.5 76.6 L368.5 77.5 L367.4 78.4 L366.3 79.3 L365.2 80.1 L364.1 80.8 L363.0 81.5 L361.9 82.2 L360.8 82.7 L359.7 83.3 L358.6 83.7 L357.5 84.1 L356.5 84.5 L355.5 84.8 L354.5 85.0 L353.5 85.2 L352.6 85.3 L351.8 85.3 L350.9 85.3 L350.2 85.3 L349.4 85.2 L348.8 85.0 L348.2 84.8 L347.6 84.6 L347.1 84.4 L346.6 84.1 L346.2 83.8 L345.8 83.5 L345.4 83.1 L345.1 82.7 L344.7 82.3 L344.4 81.8 L344.2 81.3 L343.9 80.7 L343.7 80.1 L343.5 79.4 L343.4 78.6 L343.3 77.8 L343.2 76.9 L343.2 76.0 L343.3 75.0 L343.4 74.0 L343.5 73.0 L343.8 71.9 L344.0 70.8 L344.4 69.7 L344.7 68.5 L345.2 67.4 L345.7 66.2 L346.3 65.0 L346.9 63.8 L347.5 62.6 L348.3 61.4 L349.0 60.3 L349.8 59.1 L350.7 58.0 L351.6 56.9 L352.5 55.8 L353.5 54.7 L354.5 53.7 L355.5 52.7 L356.6 51.8 L357.6 50.9 L358.7 50.0 L359.8 49.2 L360.9 48.5 L362.0 47.8 L363.1 47.1 L364.3 46.6 L365.4 46.0 L366.4 45.6 L367.5 45.2 L368.5 44.8 L369.6 44.5 L370.6 44.3 L371.5 44.2 L372.4 44.0 L373.3 44.0 L374.1 44.0 L374.9 44.0 L375.6 44.1 L376.2 44.3 L376.9 44.5 L377.4 44.7 L377.9 44.9 L378.4 45.2 L378.8 45.5Z" fill="none" stroke="#eeeeee" stroke-width="1.8"/>
<path d="M378.0 47.2 L378.3 47.4 L378.5 47.7 L378.8 48.0 L379.0 48.4 L379.2 48.8 L379.4 49.3 L379.6 49.8 L379.7 50.3 L379.8 51.0 L379.9 51.7 L380.0 52.4 L380.0 53.3 L379.9 54.1 L379.8 55.0 L379.7 56.0 L379.5 57.0 L379.2 58.0 L378.9 59.1 L378.5 60.2 L378.1 61.3 L377.6 62.4 L377.1 63.5 L376.5 64.6 L375.9 65.8 L375.2 66.9 L374.5 68.0 L373.7 69.1 L372.9 70.2 L372.0 71.3 L371.1 72.3 L370.2 73.3 L369.2 74.3 L368.3 75.2 L367.3 76.1 L366.2 77.0 L365.2 77.8 L364.2 78.6 L363.1 79.3 L362.0 80.0 L361.0 80.6 L359.9 81.1 L358.9 81.6 L357.9 82.0 L356.9 82.4 L355.9 82.7 L355.0 83.0 L354.1 83.2 L353.3 83.3 L352.5 83.4 L351.7 83.5 L351.0 83.5 L350.3 83.4 L349.8 83.4 L349.2 83.2 L348.7 83.1 L348.3 82.9 L347.9 82.8 L347.6 82.6 L347.3 82.4 L347.0 82.1 L346.7 81.9 L346.5 81.6 L346.3 81.3 L346.0 80.9 L345.8 80.5 L345.6 80.1 L345.5 79.5 L345.3 79.0 L345.2 78.3 L345.1 77.6 L345.1 76.9 L345.1 76.1 L345.1 75.2 L345.2 74.3 L345.3 73.3 L345.5 72.3 L345.8 71.3 L346.1 70.2 L346.5 69.1 L346.9 68.0 L347.4 66.9 L347.9 65.8 L348.5 64.7 L349.1 63.5 L349.8 62.4 L350.5 61.3 L351.3 60.2 L352.1 59.1 L353.0 58.0 L353.9 57.0 L354.8 56.0 L355.8 55.0 L356.8 54.1 L357.8 53.2 L358.8 52.3 L359.8 51.5 L360.9 50.7 L361.9 50.0 L363.0 49.4 L364.0 48.7 L365.1 48.2 L366.1 47.7 L367.1 47.3 L368.1 46.9 L369.1 46.6 L370.0 46.3 L370.9 46.1 L371.8 46.0 L372.6 45.9 L373.3 45.8 L374.0 45.8 L374.7 45.9 L375.3 46.0 L375.8 46.1 L376.3 46.2 L376.7 46.4 L377.1 46.5 L377.4 46.7 L377.8 46.9Z" fill="none" stroke="#fafafa" stroke-width="2.1"/>
<path d="M376.5 48.9 L376.6 49.0 L376.7 49.2 L376.8 49.3 L376.9 49.5 L377.1 49.8 L377.2 50.1 L377.3 50.4 L377.4 50.9 L377.5 51.3 L377.6 51.9 L377.6 52.5 L377.6 53.2 L377.6 53.9 L377.5 54.7 L377.4 55.6 L377.2 56.5 L376.9 57.4 L376.7 58.4 L376.3 59.4 L375.9 60.4 L375.5 61.4 L375.0 62.5 L374.5 63.5 L373.9 64.6 L373.2 65.6 L372.5 66.7 L371.8 67.7 L371.0 68.7 L370.2 69.8 L369.4 70.7 L368.5 71.7 L367.6 72.6 L366.7 73.5 L365.7 74.4 L364.8 75.2 L363.8 75.9 L362.8 76.6 L361.8 77.3 L360.8 77.9 L359.9 78.5 L358.9 79.0 L357.9 79.5 L357.0 79.8 L356.1 80.2 L355.3 80.5 L354.4 80.7 L353.7 80.9 L352.9 81.0 L352.3 81.1 L351.6 81.1 L351.1 81.1 L350.6 81.1 L350.1 81.0 L349.8 80.9 L349.5 80.9 L349.2 80.8 L349.0 80.7 L348.8 80.6 L348.7 80.5 L348.6 80.4 L348.4 80.3 L348.3 80.1 L348.2 80.0 L348.1 79.8 L348.0 79.5 L347.8 79.2 L347.7 78.9 L347.6 78.4 L347.5 78.0 L347.5 77.4 L347.4 76.8 L347.4 76.1 L347.5 75.4 L347.5 74.6 L347.7 73.7 L347.8 72.8 L348.1 71.9 L348.4 70.9 L348.7 70.0 L349.1 68.9 L349.5 67.9 L350.0 66.9 L350.6 65.8 L351.2 64.7 L351.8 63.7 L352.5 62.6 L353.2 61.6 L354.0 60.6 L354.8 59.6 L355.7 58.6 L356.5 57.6 L357.4 56.7 L358.4 55.8 L359.3 55.0 L360.3 54.1 L361.2 53.4 L362.2 52.7 L363.2 52.0 L364.2 51.4 L365.2 50.8 L366.1 50.3 L367.1 49.9 L368.0 49.5 L368.9 49.1 L369.8 48.8 L370.6 48.6 L371.4 48.4 L372.1 48.3 L372.8 48.2 L373.4 48.2 L374.0 48.2 L374.4 48.2 L374.9 48.3 L375.2 48.4 L375.6 48.4 L375.8 48.5 L376.0 48.6 L376.2 48.7 L376.3 48.8Z" fill="none" stroke="#f1f1f1" stroke-width="1.6"/>
<path d="M382.9 41.7 L383.6 42.4 L384.3 43.1 L384.9 43.9 L385.4 44.8 L385.9 45.7 L386.3 46.7 L386.6 47.7 L386.9 48.8 L387.1 49.9 L387.2 51.0 L387.3 52.2 L387.3 53.4 L387.2 54.7 L387.1 56.0 L386.9 57.3 L386.6 58.6 L386.3 59.9 L385.9 61.3 L385.5 62.7 L384.9 64.0 L384.3 65.4 L383.7 66.8 L383.0 68.1 L382.2 69.5 L381.4 70.8 L380.6 72.1 L379.6 73.4 L378.7 74.7 L377.7 76.0 L376.6 77.2 L375.5 78.4 L374.4 79.5 L373.3 80.6 L372.1 81.7 L370.9 82.7 L369.6 83.7 L368.4 84.6 L367.1 85.4 L365.8 86.2 L364.5 87.0 L363.2 87.7 L361.9 88.3 L360.6 88.8 L359.4 89.3 L358.1 89.8 L356.8 90.1 L355.5 90.4 L354.3 90.6 L353.1 90.7 L351.9 90.8 L350.7 90.8 L349.6 90.7 L348.5 90.6 L347.5 90.4 L346.5 90.1 L345.5 89.7 L344.6 89.3 L343.7 88.8 L342.9 88.3 L342.1 87.6 L341.4 86.9 L340.8 86.2 L340.2 85.4 L339.6 84.5 L339.2 83.6 L338.8 82.6 L338.4 81.6 L338.1 80.5 L337.9 79.4 L337.8 78.3 L337.7 77.1 L337.7 75.9 L337.8 74.6 L337.9 73.3 L338.1 72.0 L338.4 70.7 L338.7 69.4 L339.1 68.0 L339.6 66.7 L340.1 65.3 L340.7 63.9 L341.3 62.5 L342.0 61.2 L342.8 59.8 L343.6 58.5 L344.5 57.2 L345.4 55.9 L346.3 54.6 L347.4 53.3 L348.4 52.1 L349.5 50.9 L350.6 49.8 L351.8 48.7 L352.9 47.6 L354.2 46.6 L355.4 45.6 L356.6 44.7 L357.9 43.9 L359.2 43.1 L360.5 42.3 L361.8 41.6 L363.1 41.0 L364.4 40.5 L365.7 40.0 L367.0 39.5 L368.2 39.2 L369.5 38.9 L370.7 38.7 L371.9 38.6 L373.1 38.5 L374.3 38.5 L375.4 38.6 L376.5 38.7 L377.5 38.9 L378.6 39.2 L379.5 39.6 L380.4 40.0 L381.3 40.5 L382.1 41.1Z" fill="none" stroke="#8e8e8e" stroke-width="1.15"/>
<path d="M489.3 78.5 L490.3 80.8 L491.0 83.3 L491.5 85.8 L491.9 88.3 L492.0 90.9 L492.0 93.6 L491.7 96.3 L491.3 99.0 L490.7 101.8 L489.9 104.6 L488.9 107.3 L487.7 110.1 L486.3 112.9 L484.8 115.7 L483.1 118.4 L481.2 121.1 L479.2 123.8 L477.0 126.5 L474.6 129.0 L472.1 131.6 L469.5 134.0 L466.7 136.4 L463.8 138.7 L460.8 141.0 L457.7 143.1 L454.4 145.1 L451.1 147.1 L447.7 148.9 L444.3 150.6 L440.8 152.2 L437.2 153.7 L433.6 155.1 L429.9 156.3 L426.2 157.4 L422.5 158.3 L418.9 159.2 L415.2 159.8 L411.5 160.4 L407.9 160.8 L404.3 161.0 L400.7 161.1 L397.2 161.1 L393.8 160.9 L390.4 160.6 L387.2 160.1 L384.0 159.5 L380.9 158.7 L377.9 157.8 L375.1 156.8 L372.4 155.6 L369.8 154.3 L367.4 152.9 L365.1 151.3 L362.9 149.6 L361.0 147.9 L359.2 146.0 L357.5 144.0 L356.1 141.9 L354.8 139.7 L353.7 137.4 L352.8 135.0 L352.0 132.6 L351.5 130.1 L351.2 127.5 L351.0 124.9 L351.1 122.3 L351.3 119.6 L351.7 116.8 L352.3 114.1 L353.1 111.3 L354.1 108.5 L355.3 105.7 L356.7 102.9 L358.2 100.2 L359.9 97.4 L361.8 94.7 L363.9 92.0 L366.1 89.4 L368.4 86.8 L370.9 84.3 L373.6 81.8 L376.3 79.4 L379.2 77.1 L382.3 74.9 L385.4 72.8 L388.6 70.7 L391.9 68.8 L395.3 66.9 L398.7 65.2 L402.3 63.6 L405.8 62.1 L409.5 60.8 L413.1 59.6 L416.8 58.5 L420.5 57.5 L424.2 56.7 L427.9 56.0 L431.5 55.5 L435.2 55.1 L438.8 54.8 L442.3 54.7 L445.8 54.8 L449.2 55.0 L452.6 55.3 L455.9 55.8 L459.0 56.4 L462.1 57.2 L465.1 58.1 L467.9 59.1 L470.6 60.3 L473.2 61.6 L475.7 63.0 L477.9 64.5 L480.1 66.2 L482.1 68.0 L483.9 69.9 L485.5 71.9 L487.0 74.0 L488.2 76.2Z" fill="#f7f7f7" stroke="none"/>
<path d="M485.2 80.3 L486.0 82.3 L486.6 84.4 L487.1 86.5 L487.4 88.7 L487.5 91.0 L487.5 93.4 L487.3 95.8 L486.9 98.2 L486.3 100.7 L485.6 103.2 L484.7 105.7 L483.6 108.3 L482.4 110.8 L480.9 113.4 L479.3 115.9 L477.6 118.5 L475.6 121.0 L473.6 123.5 L471.3 125.9 L469.0 128.3 L466.5 130.7 L463.8 133.0 L461.0 135.2 L458.2 137.3 L455.2 139.3 L452.1 141.3 L448.9 143.2 L445.7 144.9 L442.3 146.6 L439.0 148.1 L435.5 149.5 L432.1 150.8 L428.6 152.0 L425.0 153.1 L421.5 154.0 L418.0 154.8 L414.4 155.4 L410.9 155.9 L407.5 156.3 L404.0 156.5 L400.7 156.6 L397.4 156.6 L394.1 156.4 L391.0 156.1 L387.9 155.7 L385.0 155.1 L382.1 154.4 L379.4 153.5 L376.8 152.6 L374.3 151.5 L372.0 150.3 L369.8 149.1 L367.7 147.7 L365.8 146.2 L364.1 144.6 L362.5 143.0 L361.1 141.2 L359.9 139.4 L358.8 137.6 L357.8 135.6 L357.0 133.6 L356.4 131.5 L355.9 129.3 L355.6 127.1 L355.5 124.8 L355.5 122.5 L355.8 120.1 L356.1 117.7 L356.7 115.2 L357.4 112.7 L358.3 110.1 L359.4 107.6 L360.7 105.0 L362.1 102.5 L363.7 99.9 L365.5 97.4 L367.4 94.9 L369.5 92.4 L371.7 89.9 L374.1 87.5 L376.6 85.2 L379.2 82.9 L382.0 80.7 L384.9 78.6 L387.8 76.5 L390.9 74.6 L394.1 72.7 L397.4 70.9 L400.7 69.3 L404.1 67.8 L407.5 66.3 L411.0 65.0 L414.5 63.9 L418.0 62.8 L421.5 61.9 L425.1 61.1 L428.6 60.4 L432.1 59.9 L435.6 59.6 L439.0 59.3 L442.4 59.2 L445.7 59.3 L448.9 59.4 L452.1 59.8 L455.1 60.2 L458.1 60.8 L460.9 61.5 L463.7 62.3 L466.3 63.3 L468.7 64.3 L471.1 65.5 L473.3 66.8 L475.3 68.2 L477.2 69.7 L478.9 71.2 L480.5 72.9 L481.9 74.6 L483.2 76.4 L484.3 78.3Z" fill="none" stroke="#fcfcfc" stroke-width="7.0"/>
<path d="M479.7 82.6 L480.3 84.2 L480.8 85.9 L481.2 87.6 L481.4 89.3 L481.5 91.2 L481.5 93.1 L481.3 95.0 L481.0 97.1 L480.5 99.2 L479.9 101.3 L479.1 103.5 L478.2 105.8 L477.0 108.0 L475.8 110.3 L474.3 112.6 L472.7 115.0 L471.0 117.3 L469.0 119.5 L467.0 121.8 L464.8 124.0 L462.4 126.2 L460.0 128.3 L457.4 130.4 L454.7 132.4 L451.9 134.3 L449.0 136.2 L446.0 137.9 L442.9 139.6 L439.8 141.1 L436.6 142.6 L433.3 143.9 L430.0 145.2 L426.7 146.3 L423.4 147.3 L420.1 148.1 L416.8 148.9 L413.5 149.5 L410.2 150.0 L406.9 150.3 L403.7 150.5 L400.6 150.6 L397.6 150.6 L394.6 150.4 L391.7 150.1 L388.9 149.7 L386.2 149.2 L383.7 148.6 L381.3 147.8 L379.0 147.0 L376.8 146.1 L374.8 145.1 L373.0 144.0 L371.3 142.8 L369.7 141.6 L368.3 140.3 L367.0 139.0 L365.9 137.6 L364.9 136.2 L364.0 134.7 L363.3 133.2 L362.7 131.6 L362.2 130.0 L361.9 128.3 L361.6 126.5 L361.5 124.7 L361.5 122.8 L361.7 120.8 L362.0 118.8 L362.5 116.7 L363.1 114.5 L363.9 112.3 L364.9 110.1 L366.0 107.8 L367.3 105.5 L368.7 103.2 L370.3 100.9 L372.1 98.6 L374.0 96.3 L376.0 94.1 L378.2 91.8 L380.6 89.6 L383.1 87.5 L385.6 85.5 L388.3 83.5 L391.2 81.5 L394.1 79.7 L397.0 77.9 L400.1 76.3 L403.3 74.7 L406.5 73.3 L409.7 71.9 L413.0 70.7 L416.3 69.6 L419.6 68.6 L422.9 67.7 L426.3 67.0 L429.6 66.4 L432.9 65.9 L436.1 65.5 L439.3 65.3 L442.4 65.2 L445.5 65.3 L448.4 65.4 L451.3 65.7 L454.1 66.1 L456.8 66.6 L459.3 67.3 L461.8 68.0 L464.0 68.8 L466.2 69.8 L468.2 70.8 L470.1 71.9 L471.8 73.0 L473.3 74.3 L474.7 75.5 L476.0 76.9 L477.1 78.2 L478.1 79.7 L479.0 81.1Z" fill="none" stroke="#eeeeee" stroke-width="1.8"/>
<path d="M476.5 84.0 L477.0 85.4 L477.4 86.7 L477.7 88.2 L477.9 89.7 L478.0 91.2 L478.0 92.9 L477.8 94.6 L477.6 96.4 L477.1 98.3 L476.6 100.2 L475.8 102.3 L475.0 104.3 L473.9 106.4 L472.7 108.6 L471.4 110.7 L469.9 112.9 L468.2 115.1 L466.4 117.2 L464.4 119.4 L462.3 121.5 L460.1 123.6 L457.7 125.6 L455.3 127.6 L452.7 129.6 L450.0 131.4 L447.2 133.2 L444.3 134.9 L441.3 136.5 L438.3 138.0 L435.2 139.4 L432.0 140.7 L428.9 141.9 L425.7 143.0 L422.5 143.9 L419.3 144.7 L416.1 145.5 L412.9 146.0 L409.7 146.5 L406.6 146.8 L403.6 147.0 L400.6 147.1 L397.7 147.1 L394.9 146.9 L392.1 146.7 L389.5 146.3 L387.0 145.8 L384.6 145.2 L382.4 144.5 L380.3 143.8 L378.3 142.9 L376.5 142.0 L374.8 141.0 L373.3 140.0 L372.0 138.9 L370.7 137.8 L369.6 136.7 L368.7 135.5 L367.9 134.3 L367.1 133.1 L366.5 131.8 L366.0 130.5 L365.6 129.1 L365.3 127.7 L365.1 126.2 L365.0 124.6 L365.0 123.0 L365.2 121.3 L365.5 119.4 L365.9 117.6 L366.5 115.6 L367.2 113.6 L368.1 111.5 L369.1 109.4 L370.3 107.3 L371.6 105.1 L373.1 103.0 L374.8 100.8 L376.6 98.6 L378.6 96.5 L380.7 94.3 L382.9 92.3 L385.3 90.2 L387.8 88.2 L390.4 86.3 L393.1 84.4 L395.9 82.7 L398.8 81.0 L401.7 79.4 L404.8 77.9 L407.8 76.5 L411.0 75.2 L414.2 74.0 L417.3 72.9 L420.6 72.0 L423.8 71.1 L427.0 70.4 L430.1 69.8 L433.3 69.4 L436.4 69.0 L439.5 68.8 L442.4 68.7 L445.4 68.8 L448.2 68.9 L450.9 69.2 L453.5 69.6 L456.0 70.1 L458.4 70.6 L460.6 71.3 L462.8 72.1 L464.7 72.9 L466.5 73.9 L468.2 74.8 L469.7 75.9 L471.1 76.9 L472.3 78.0 L473.4 79.2 L474.3 80.3 L475.2 81.5 L475.9 82.8Z" fill="none" stroke="#fafafa" stroke-width="4.0"/>
<path d="M472.4 85.8 L472.8 86.8 L473.1 87.8 L473.3 88.9 L473.5 90.1 L473.5 91.3 L473.5 92.6 L473.4 94.1 L473.1 95.6 L472.8 97.2 L472.3 98.8 L471.7 100.6 L470.9 102.4 L470.0 104.3 L468.9 106.3 L467.6 108.2 L466.2 110.2 L464.7 112.3 L463.0 114.3 L461.2 116.3 L459.2 118.3 L457.1 120.3 L454.9 122.2 L452.5 124.1 L450.0 125.9 L447.5 127.7 L444.8 129.3 L442.1 131.0 L439.2 132.5 L436.3 133.9 L433.4 135.3 L430.4 136.5 L427.4 137.6 L424.3 138.7 L421.3 139.6 L418.2 140.4 L415.2 141.0 L412.1 141.6 L409.2 142.0 L406.2 142.4 L403.4 142.6 L400.5 142.6 L397.8 142.6 L395.2 142.5 L392.7 142.2 L390.3 141.9 L388.0 141.4 L385.8 140.9 L383.8 140.3 L381.9 139.6 L380.2 138.8 L378.7 138.0 L377.2 137.2 L376.0 136.4 L374.9 135.5 L373.9 134.6 L373.0 133.7 L372.3 132.8 L371.6 131.9 L371.1 131.0 L370.6 130.0 L370.3 129.0 L370.0 128.0 L369.7 126.9 L369.6 125.8 L369.5 124.5 L369.5 123.2 L369.7 121.8 L369.9 120.3 L370.3 118.7 L370.7 117.0 L371.4 115.2 L372.1 113.4 L373.1 111.5 L374.2 109.6 L375.4 107.6 L376.8 105.6 L378.3 103.6 L380.0 101.6 L381.8 99.6 L383.8 97.6 L385.9 95.6 L388.2 93.7 L390.5 91.8 L393.0 90.0 L395.6 88.2 L398.2 86.5 L401.0 84.9 L403.8 83.4 L406.7 81.9 L409.6 80.6 L412.6 79.4 L415.7 78.2 L418.7 77.2 L421.8 76.3 L424.8 75.5 L427.9 74.8 L430.9 74.3 L433.9 73.8 L436.8 73.5 L439.7 73.3 L442.5 73.2 L445.2 73.3 L447.8 73.4 L450.4 73.7 L452.8 74.0 L455.1 74.5 L457.2 75.0 L459.2 75.6 L461.1 76.3 L462.8 77.0 L464.4 77.8 L465.8 78.6 L467.1 79.5 L468.2 80.4 L469.2 81.3 L470.0 82.2 L470.7 83.1 L471.4 84.0 L471.9 84.9Z" fill="none" stroke="#f1f1f1" stroke-width="1.6"/>
<path d="M465.5 88.8 L465.7 89.2 L465.8 89.7 L465.9 90.2 L466.0 90.8 L466.0 91.5 L466.0 92.3 L465.9 93.1 L465.8 94.2 L465.5 95.3 L465.2 96.5 L464.7 97.9 L464.1 99.3 L463.3 100.9 L462.4 102.5 L461.4 104.1 L460.2 105.8 L458.9 107.6 L457.4 109.3 L455.8 111.1 L454.0 112.9 L452.1 114.7 L450.1 116.4 L447.9 118.1 L445.7 119.8 L443.3 121.4 L440.9 122.9 L438.4 124.4 L435.8 125.8 L433.1 127.2 L430.4 128.4 L427.6 129.5 L424.9 130.6 L422.1 131.5 L419.3 132.3 L416.5 133.1 L413.7 133.7 L410.9 134.2 L408.2 134.6 L405.6 134.9 L403.0 135.1 L400.5 135.1 L398.1 135.1 L395.8 135.0 L393.6 134.8 L391.5 134.5 L389.6 134.1 L387.8 133.6 L386.2 133.1 L384.7 132.6 L383.4 132.0 L382.2 131.5 L381.2 130.9 L380.4 130.3 L379.7 129.7 L379.1 129.2 L378.6 128.7 L378.3 128.3 L378.0 127.8 L377.7 127.4 L377.5 127.0 L377.4 126.6 L377.2 126.2 L377.1 125.7 L377.0 125.1 L377.0 124.4 L377.0 123.6 L377.1 122.7 L377.3 121.7 L377.5 120.6 L377.9 119.3 L378.4 118.0 L379.0 116.5 L379.7 115.0 L380.6 113.4 L381.7 111.7 L382.8 110.0 L384.2 108.3 L385.7 106.5 L387.3 104.7 L389.0 103.0 L390.9 101.2 L392.9 99.4 L395.1 97.7 L397.3 96.1 L399.7 94.5 L402.1 92.9 L404.7 91.4 L407.3 90.0 L409.9 88.7 L412.6 87.5 L415.4 86.3 L418.2 85.3 L421.0 84.3 L423.8 83.5 L426.6 82.8 L429.4 82.2 L432.1 81.7 L434.8 81.3 L437.5 81.0 L440.0 80.8 L442.5 80.7 L445.0 80.8 L447.3 80.9 L449.4 81.1 L451.5 81.4 L453.4 81.8 L455.2 82.2 L456.8 82.7 L458.3 83.2 L459.6 83.8 L460.8 84.4 L461.8 85.0 L462.6 85.6 L463.3 86.1 L463.9 86.6 L464.4 87.1 L464.8 87.6 L465.1 88.0 L465.3 88.4Z" fill="none" stroke="#f3f3f3" stroke-width="1.5"/>
<path d="M489.3 78.5 L490.3 80.8 L491.0 83.3 L491.5 85.8 L491.9 88.3 L492.0 90.9 L492.0 93.6 L491.7 96.3 L491.3 99.0 L490.7 101.8 L489.9 104.6 L488.9 107.3 L487.7 110.1 L486.3 112.9 L484.8 115.7 L483.1 118.4 L481.2 121.1 L479.2 123.8 L477.0 126.5 L474.6 129.0 L472.1 131.6 L469.5 134.0 L466.7 136.4 L463.8 138.7 L460.8 141.0 L457.7 143.1 L454.4 145.1 L451.1 147.1 L447.7 148.9 L444.3 150.6 L440.8 152.2 L437.2 153.7 L433.6 155.1 L429.9 156.3 L426.2 157.4 L422.5 158.3 L418.9 159.2 L415.2 159.8 L411.5 160.4 L407.9 160.8 L404.3 161.0 L400.7 161.1 L397.2 161.1 L393.8 160.9 L390.4 160.6 L387.2 160.1 L384.0 159.5 L380.9 158.7 L377.9 157.8 L375.1 156.8 L372.4 155.6 L369.8 154.3 L367.4 152.9 L365.1 151.3 L362.9 149.6 L361.0 147.9 L359.2 146.0 L357.5 144.0 L356.1 141.9 L354.8 139.7 L353.7 137.4 L352.8 135.0 L352.0 132.6 L351.5 130.1 L351.2 127.5 L351.0 124.9 L351.1 122.3 L351.3 119.6 L351.7 116.8 L352.3 114.1 L353.1 111.3 L354.1 108.5 L355.3 105.7 L356.7 102.9 L358.2 100.2 L359.9 97.4 L361.8 94.7 L363.9 92.0 L366.1 89.4 L368.4 86.8 L370.9 84.3 L373.6 81.8 L376.3 79.4 L379.2 77.1 L382.3 74.9 L385.4 72.8 L388.6 70.7 L391.9 68.8 L395.3 66.9 L398.7 65.2 L402.3 63.6 L405.8 62.1 L409.5 60.8 L413.1 59.6 L416.8 58.5 L420.5 57.5 L424.2 56.7 L427.9 56.0 L431.5 55.5 L435.2 55.1 L438.8 54.8 L442.3 54.7 L445.8 54.8 L449.2 55.0 L452.6 55.3 L455.9 55.8 L459.0 56.4 L462.1 57.2 L465.1 58.1 L467.9 59.1 L470.6 60.3 L473.2 61.6 L475.7 63.0 L477.9 64.5 L480.1 66.2 L482.1 68.0 L483.9 69.9 L485.5 71.9 L487.0 74.0 L488.2 76.2Z" fill="none" stroke="#8e8e8e" stroke-width="1.15"/>
<path d="M504.5 178.4 L504.7 179.6 L504.7 180.8 L504.3 182.0 L503.6 183.3 L502.6 184.6 L501.3 185.9 L499.6 187.2 L497.5 188.5 L495.1 189.8 L492.3 191.1 L489.1 192.4 L485.6 193.7 L481.8 194.9 L477.6 196.1 L473.1 197.3 L468.3 198.5 L463.3 199.6 L457.9 200.6 L452.4 201.6 L446.7 202.6 L440.8 203.4 L434.8 204.2 L428.7 204.9 L422.5 205.6 L416.3 206.1 L410.1 206.6 L403.9 207.1 L397.8 207.5 L391.8 207.9 L385.8 208.4 L379.7 209.0 L373.5 209.7 L367.2 210.2 L360.7 210.7 L354.3 211.0 L347.9 211.3 L341.6 211.4 L335.4 211.4 L329.3 211.4 L323.5 211.2 L317.9 210.9 L312.5 210.6 L307.3 210.1 L302.5 209.6 L297.9 209.0 L293.6 208.3 L289.6 207.6 L286.0 206.8 L282.6 206.0 L279.6 205.1 L276.9 204.1 L274.4 203.2 L272.3 202.2 L270.4 201.1 L268.8 200.0 L267.5 198.9 L266.5 197.8 L265.7 196.7 L265.2 195.5 L265.0 194.3 L265.0 193.1 L265.4 191.9 L266.0 190.7 L266.9 189.4 L268.1 188.1 L269.5 186.9 L271.3 185.6 L273.4 184.3 L275.8 183.0 L278.5 181.7 L281.6 180.5 L284.9 179.2 L288.6 178.0 L292.5 176.8 L296.8 175.6 L301.3 174.4 L306.1 173.3 L311.2 172.2 L316.4 171.1 L321.9 170.2 L327.5 169.2 L333.3 168.3 L339.3 167.5 L345.3 166.7 L351.5 166.0 L357.7 165.3 L363.9 164.7 L370.2 164.2 L376.5 163.7 L382.8 163.2 L389.2 162.7 L395.5 162.3 L401.9 162.0 L408.2 161.8 L414.5 161.6 L420.7 161.5 L426.8 161.5 L432.7 161.6 L438.5 161.8 L444.1 162.0 L449.5 162.3 L454.6 162.7 L459.6 163.2 L464.3 163.7 L468.7 164.3 L472.9 164.9 L476.9 165.6 L480.5 166.4 L484.0 167.2 L487.1 168.0 L490.0 168.9 L492.6 169.8 L495.0 170.8 L497.2 171.8 L499.0 172.8 L500.7 173.9 L502.0 174.9 L503.1 176.1 L503.9 177.2Z" fill="#f7f7f7" stroke="none"/>
<path d="M501.7 179.3 L501.8 179.8 L501.8 180.3 L501.6 180.9 L501.2 181.7 L500.5 182.6 L499.4 183.7 L497.9 184.8 L496.0 186.0 L493.8 187.2 L491.1 188.4 L488.1 189.7 L484.7 190.9 L480.9 192.1 L476.8 193.3 L472.4 194.5 L467.7 195.6 L462.7 196.7 L457.4 197.8 L451.9 198.8 L446.2 199.7 L440.4 200.5 L434.4 201.3 L428.3 202.0 L422.2 202.7 L416.0 203.2 L409.9 203.7 L403.7 204.2 L397.6 204.6 L391.6 205.0 L385.5 205.5 L379.5 206.1 L373.3 206.8 L366.9 207.3 L360.6 207.8 L354.2 208.1 L347.8 208.4 L341.5 208.5 L335.4 208.5 L329.4 208.4 L323.6 208.3 L318.0 208.0 L312.7 207.6 L307.6 207.2 L302.8 206.7 L298.3 206.1 L294.1 205.5 L290.2 204.7 L286.6 204.0 L283.4 203.2 L280.5 202.3 L277.9 201.4 L275.6 200.5 L273.6 199.6 L271.9 198.6 L270.6 197.7 L269.5 196.8 L268.8 196.0 L268.3 195.3 L268.0 194.7 L267.9 194.1 L267.9 193.6 L268.1 192.9 L268.5 192.2 L269.1 191.3 L270.1 190.2 L271.3 189.2 L272.9 188.0 L274.9 186.8 L277.1 185.6 L279.7 184.4 L282.6 183.2 L285.9 182.0 L289.5 180.7 L293.4 179.5 L297.5 178.4 L302.0 177.2 L306.8 176.1 L311.7 175.0 L317.0 174.0 L322.4 173.0 L328.0 172.1 L333.8 171.2 L339.7 170.4 L345.7 169.6 L351.8 168.9 L358.0 168.2 L364.2 167.6 L370.4 167.1 L376.7 166.6 L383.0 166.1 L389.4 165.6 L395.7 165.2 L402.0 164.9 L408.3 164.7 L414.6 164.5 L420.7 164.4 L426.8 164.4 L432.7 164.5 L438.4 164.7 L443.9 164.9 L449.3 165.3 L454.4 165.6 L459.3 166.1 L463.9 166.6 L468.3 167.2 L472.5 167.8 L476.3 168.5 L479.9 169.2 L483.2 170.0 L486.3 170.8 L489.1 171.7 L491.6 172.6 L493.9 173.5 L495.9 174.4 L497.5 175.3 L498.9 176.2 L500.1 177.1 L500.9 177.9 L501.4 178.7Z" fill="none" stroke="#fcfcfc" stroke-width="4.5"/>
<path d="M498.0 180.5 L497.9 180.1 L498.0 179.7 L498.0 179.4 L498.0 179.5 L497.6 180.0 L496.9 180.7 L495.7 181.6 L494.1 182.6 L492.0 183.7 L489.6 184.9 L486.7 186.0 L483.4 187.2 L479.8 188.4 L475.8 189.6 L471.5 190.7 L466.8 191.9 L461.9 192.9 L456.7 194.0 L451.3 194.9 L445.6 195.8 L439.8 196.7 L433.9 197.5 L427.9 198.2 L421.8 198.8 L415.7 199.4 L409.6 199.9 L403.4 200.3 L397.4 200.7 L391.3 201.1 L385.2 201.7 L379.1 202.3 L372.9 202.9 L366.6 203.4 L360.3 203.9 L354.0 204.3 L347.7 204.5 L341.5 204.6 L335.4 204.6 L329.5 204.6 L323.8 204.4 L318.2 204.1 L313.0 203.8 L308.0 203.3 L303.3 202.8 L298.9 202.3 L294.8 201.6 L291.0 200.9 L287.5 200.2 L284.4 199.4 L281.6 198.6 L279.2 197.8 L277.1 196.9 L275.4 196.1 L274.0 195.3 L272.9 194.6 L272.2 194.0 L271.8 193.6 L271.7 193.4 L271.7 193.5 L271.8 193.8 L271.8 194.1 L271.7 194.3 L271.8 194.1 L272.1 193.7 L272.7 193.1 L273.7 192.2 L275.1 191.3 L276.8 190.2 L278.9 189.1 L281.3 188.0 L284.1 186.8 L287.2 185.6 L290.7 184.4 L294.5 183.3 L298.6 182.1 L302.9 181.0 L307.6 179.9 L312.5 178.8 L317.7 177.8 L323.0 176.9 L328.6 175.9 L334.3 175.1 L340.2 174.2 L346.1 173.5 L352.2 172.8 L358.3 172.1 L364.5 171.5 L370.8 171.0 L377.0 170.4 L383.3 169.9 L389.6 169.5 L395.9 169.1 L402.2 168.8 L408.5 168.6 L414.7 168.4 L420.8 168.3 L426.7 168.3 L432.6 168.4 L438.3 168.6 L443.7 168.8 L449.0 169.1 L454.1 169.5 L458.9 170.0 L463.5 170.5 L467.8 171.0 L471.8 171.7 L475.6 172.3 L479.1 173.0 L482.3 173.8 L485.2 174.6 L487.9 175.4 L490.3 176.2 L492.3 177.0 L494.1 177.8 L495.6 178.6 L496.7 179.4 L497.5 180.0 L497.9 180.5 L498.1 180.7Z" fill="none" stroke="#eeeeee" stroke-width="1.8"/>
<path d="M495.9 181.3 L495.7 180.3 L495.7 179.3 L495.9 178.6 L496.1 178.3 L495.9 178.4 L495.4 179.0 L494.4 179.7 L492.9 180.7 L491.0 181.7 L488.6 182.8 L485.9 183.9 L482.7 185.1 L479.1 186.3 L475.2 187.4 L470.9 188.5 L466.3 189.6 L461.4 190.7 L456.3 191.7 L450.9 192.7 L445.3 193.6 L439.5 194.4 L433.6 195.2 L427.7 195.9 L421.6 196.5 L415.5 197.1 L409.4 197.6 L403.3 198.0 L397.2 198.4 L391.1 198.9 L385.0 199.4 L378.8 200.0 L372.7 200.6 L366.4 201.2 L360.2 201.6 L353.9 202.0 L347.6 202.2 L341.5 202.3 L335.4 202.4 L329.5 202.3 L323.8 202.1 L318.4 201.9 L313.1 201.5 L308.2 201.1 L303.5 200.6 L299.2 200.0 L295.1 199.4 L291.4 198.7 L288.0 198.0 L285.0 197.2 L282.3 196.4 L280.0 195.6 L278.0 194.9 L276.4 194.1 L275.1 193.4 L274.3 192.8 L273.8 192.4 L273.6 192.2 L273.7 192.4 L273.9 192.9 L274.0 193.7 L274.0 194.5 L273.9 195.1 L273.8 195.3 L273.9 195.2 L274.3 194.7 L275.1 194.0 L276.3 193.2 L277.9 192.2 L279.9 191.1 L282.2 190.0 L284.9 188.9 L288.0 187.8 L291.4 186.6 L295.1 185.5 L299.1 184.3 L303.5 183.2 L308.1 182.1 L313.0 181.1 L318.1 180.1 L323.4 179.1 L329.0 178.2 L334.6 177.3 L340.5 176.5 L346.4 175.7 L352.5 175.0 L358.6 174.4 L364.7 173.8 L371.0 173.2 L377.2 172.7 L383.5 172.2 L389.8 171.8 L396.0 171.4 L402.3 171.1 L408.5 170.8 L414.7 170.7 L420.8 170.6 L426.7 170.6 L432.5 170.7 L438.2 170.8 L443.6 171.1 L448.9 171.4 L453.9 171.8 L458.7 172.2 L463.2 172.7 L467.5 173.3 L471.4 173.9 L475.2 174.5 L478.6 175.2 L481.8 176.0 L484.6 176.7 L487.2 177.5 L489.5 178.3 L491.4 179.1 L493.1 179.9 L494.4 180.6 L495.4 181.2 L495.9 181.7 L496.2 181.9 L496.1 181.8Z" fill="none" stroke="#fafafa" stroke-width="2.6"/>
<path d="M493.1 182.2 L492.8 180.6 L492.8 178.9 L493.2 177.5 L493.6 176.7 L493.8 176.5 L493.5 176.7 L492.7 177.3 L491.4 178.1 L489.7 179.1 L487.5 180.1 L484.8 181.2 L481.7 182.3 L478.3 183.5 L474.4 184.6 L470.2 185.7 L465.7 186.8 L460.8 187.9 L455.7 188.9 L450.4 189.8 L444.8 190.7 L439.1 191.6 L433.3 192.3 L427.3 193.0 L421.3 193.6 L415.2 194.2 L409.2 194.7 L403.1 195.1 L397.0 195.5 L390.9 196.0 L384.7 196.5 L378.5 197.1 L372.4 197.7 L366.2 198.3 L360.0 198.7 L353.8 199.1 L347.6 199.3 L341.4 199.4 L335.4 199.5 L329.6 199.4 L324.0 199.2 L318.5 198.9 L313.4 198.6 L308.5 198.2 L303.9 197.7 L299.6 197.1 L295.6 196.5 L292.0 195.8 L288.7 195.1 L285.8 194.4 L283.2 193.7 L281.0 192.9 L279.2 192.2 L277.7 191.5 L276.7 190.9 L276.0 190.5 L275.8 190.3 L275.9 190.4 L276.3 191.0 L276.7 192.0 L276.9 193.5 L276.9 194.9 L276.6 196.1 L276.3 196.8 L276.1 197.0 L276.3 196.8 L276.9 196.3 L277.9 195.6 L279.3 194.7 L281.2 193.7 L283.4 192.7 L286.0 191.6 L289.0 190.5 L292.3 189.4 L295.9 188.2 L299.9 187.1 L304.2 186.0 L308.7 185.0 L313.6 183.9 L318.6 182.9 L323.9 182.0 L329.4 181.0 L335.1 180.2 L340.9 179.4 L346.8 178.6 L352.8 177.9 L358.9 177.3 L365.0 176.7 L371.2 176.1 L377.4 175.6 L383.7 175.1 L390.0 174.7 L396.2 174.3 L402.4 174.0 L408.6 173.7 L414.7 173.6 L420.8 173.5 L426.7 173.5 L432.5 173.6 L438.1 173.8 L443.5 174.0 L448.7 174.3 L453.6 174.7 L458.4 175.1 L462.8 175.6 L467.0 176.2 L471.0 176.8 L474.6 177.4 L478.0 178.1 L481.1 178.8 L483.8 179.5 L486.3 180.3 L488.5 181.1 L490.3 181.8 L491.8 182.5 L492.9 183.1 L493.6 183.6 L494.0 183.9 L494.0 183.8 L493.6 183.3Z" fill="none" stroke="#f1f1f1" stroke-width="1.6"/>
<path d="M504.5 178.4 L504.7 179.6 L504.7 180.8 L504.3 182.0 L503.6 183.3 L502.6 184.6 L501.3 185.9 L499.6 187.2 L497.5 188.5 L495.1 189.8 L492.3 191.1 L489.1 192.4 L485.6 193.7 L481.8 194.9 L477.6 196.1 L473.1 197.3 L468.3 198.5 L463.3 199.6 L457.9 200.6 L452.4 201.6 L446.7 202.6 L440.8 203.4 L434.8 204.2 L428.7 204.9 L422.5 205.6 L416.3 206.1 L410.1 206.6 L403.9 207.1 L397.8 207.5 L391.8 207.9 L385.8 208.4 L379.7 209.0 L373.5 209.7 L367.2 210.2 L360.7 210.7 L354.3 211.0 L347.9 211.3 L341.6 211.4 L335.4 211.4 L329.3 211.4 L323.5 211.2 L317.9 210.9 L312.5 210.6 L307.3 210.1 L302.5 209.6 L297.9 209.0 L293.6 208.3 L289.6 207.6 L286.0 206.8 L282.6 206.0 L279.6 205.1 L276.9 204.1 L274.4 203.2 L272.3 202.2 L270.4 201.1 L268.8 200.0 L267.5 198.9 L266.5 197.8 L265.7 196.7 L265.2 195.5 L265.0 194.3 L265.0 193.1 L265.4 191.9 L266.0 190.7 L266.9 189.4 L268.1 188.1 L269.5 186.9 L271.3 185.6 L273.4 184.3 L275.8 183.0 L278.5 181.7 L281.6 180.5 L284.9 179.2 L288.6 178.0 L292.5 176.8 L296.8 175.6 L301.3 174.4 L306.1 173.3 L311.2 172.2 L316.4 171.1 L321.9 170.2 L327.5 169.2 L333.3 168.3 L339.3 167.5 L345.3 166.7 L351.5 166.0 L357.7 165.3 L363.9 164.7 L370.2 164.2 L376.5 163.7 L382.8 163.2 L389.2 162.7 L395.5 162.3 L401.9 162.0 L408.2 161.8 L414.5 161.6 L420.7 161.5 L426.8 161.5 L432.7 161.6 L438.5 161.8 L444.1 162.0 L449.5 162.3 L454.6 162.7 L459.6 163.2 L464.3 163.7 L468.7 164.3 L472.9 164.9 L476.9 165.6 L480.5 166.4 L484.0 167.2 L487.1 168.0 L490.0 168.9 L492.6 169.8 L495.0 170.8 L497.2 171.8 L499.0 172.8 L500.7 173.9 L502.0 174.9 L503.1 176.1 L503.9 177.2Z" fill="none" stroke="#8e8e8e" stroke-width="1.15"/>
<path d="M143.5 299.9 L139.5 300.1 L135.5 300.1 L131.4 299.8 L127.4 299.3 L123.4 298.6 L119.5 297.6 L115.6 296.4 L111.7 295.1 L108.0 293.5 L104.3 291.7 L100.7 289.7 L97.2 287.5 L93.8 285.1 L90.6 282.5 L87.4 279.7 L84.4 276.8 L81.6 273.7 L78.9 270.5 L76.4 267.1 L74.0 263.6 L71.8 259.9 L69.8 256.2 L68.0 252.3 L66.3 248.3 L64.9 244.3 L63.7 240.2 L62.6 236.0 L61.8 231.8 L61.2 227.5 L60.8 223.2 L60.6 218.9 L60.6 214.6 L60.8 210.3 L61.2 206.0 L61.9 201.7 L62.7 197.5 L63.8 193.4 L65.0 189.3 L66.5 185.3 L68.1 181.3 L70.0 177.5 L72.0 173.8 L74.2 170.2 L76.6 166.8 L79.2 163.4 L81.9 160.3 L84.7 157.2 L87.7 154.4 L90.9 151.7 L94.1 149.2 L97.5 146.9 L101.0 144.8 L104.6 142.9 L108.3 141.2 L112.1 139.7 L116.0 138.4 L119.9 137.3 L123.8 136.5 L127.8 135.9 L131.8 135.5 L135.8 135.3 L139.9 135.4 L143.9 135.6 L147.9 136.1 L151.9 136.9 L155.9 137.8 L159.8 139.0 L163.6 140.4 L167.4 142.0 L171.0 143.8 L174.6 145.8 L178.1 148.0 L181.5 150.4 L184.8 152.9 L187.9 155.7 L190.9 158.6 L193.7 161.7 L196.4 164.9 L199.0 168.3 L201.3 171.8 L203.5 175.5 L205.5 179.3 L207.4 183.1 L209.0 187.1 L210.4 191.1 L211.7 195.3 L212.7 199.4 L213.5 203.7 L214.2 207.9 L214.6 212.2 L214.8 216.5 L214.8 220.9 L214.5 225.2 L214.1 229.5 L213.5 233.7 L212.6 237.9 L211.6 242.1 L210.3 246.2 L208.8 250.2 L207.2 254.1 L205.4 257.9 L203.3 261.6 L201.1 265.2 L198.7 268.7 L196.2 272.0 L193.5 275.2 L190.6 278.2 L187.6 281.0 L184.5 283.7 L181.2 286.2 L177.8 288.5 L174.3 290.6 L170.7 292.5 L167.0 294.2 L163.2 295.7 L159.4 297.0 L155.5 298.1 L151.5 298.9 L147.5 299.5Z" fill="#f7f7f7" stroke="none"/>
<path d="M143.2 295.5 L139.4 295.6 L135.6 295.6 L131.9 295.3 L128.1 294.8 L124.4 294.2 L120.7 293.3 L117.0 292.2 L113.4 290.9 L109.8 289.4 L106.4 287.7 L103.0 285.8 L99.7 283.7 L96.5 281.5 L93.5 279.0 L90.5 276.4 L87.7 273.7 L85.0 270.8 L82.4 267.7 L80.0 264.5 L77.8 261.2 L75.7 257.7 L73.8 254.1 L72.1 250.5 L70.6 246.7 L69.2 242.9 L68.0 239.0 L67.0 235.0 L66.2 231.0 L65.7 226.9 L65.3 222.9 L65.1 218.8 L65.1 214.7 L65.3 210.6 L65.7 206.5 L66.3 202.5 L67.1 198.5 L68.1 194.6 L69.3 190.7 L70.7 186.9 L72.2 183.2 L74.0 179.6 L75.9 176.1 L78.0 172.7 L80.2 169.4 L82.7 166.3 L85.2 163.3 L87.9 160.4 L90.7 157.7 L93.7 155.2 L96.8 152.9 L100.0 150.7 L103.3 148.7 L106.6 146.9 L110.1 145.3 L113.7 143.9 L117.3 142.7 L120.9 141.7 L124.6 140.9 L128.4 140.3 L132.1 140.0 L135.9 139.8 L139.7 139.9 L143.5 140.1 L147.2 140.6 L151.0 141.3 L154.7 142.2 L158.4 143.2 L162.0 144.5 L165.5 146.0 L169.0 147.7 L172.3 149.6 L175.6 151.7 L178.8 154.0 L181.9 156.4 L184.8 159.0 L187.7 161.7 L190.4 164.7 L192.9 167.7 L195.3 170.9 L197.5 174.3 L199.6 177.7 L201.5 181.3 L203.2 184.9 L204.8 188.7 L206.2 192.5 L207.3 196.4 L208.3 200.4 L209.1 204.4 L209.7 208.5 L210.1 212.6 L210.3 216.6 L210.3 220.7 L210.1 224.8 L209.6 228.9 L209.0 232.9 L208.2 236.9 L207.2 240.9 L206.0 244.7 L204.7 248.5 L203.1 252.2 L201.3 255.8 L199.4 259.4 L197.3 262.8 L195.1 266.0 L192.7 269.2 L190.1 272.1 L187.4 275.0 L184.6 277.7 L181.6 280.2 L178.6 282.5 L175.4 284.7 L172.1 286.7 L168.7 288.5 L165.2 290.1 L161.7 291.5 L158.1 292.7 L154.4 293.7 L150.7 294.5 L147.0 295.1Z" fill="none" stroke="#fcfcfc" stroke-width="7.0"/>
<path d="M142.8 289.5 L139.3 289.6 L135.9 289.6 L132.4 289.3 L129.0 288.9 L125.6 288.3 L122.2 287.5 L118.9 286.5 L115.6 285.3 L112.3 283.9 L109.2 282.4 L106.1 280.6 L103.0 278.7 L100.1 276.7 L97.3 274.4 L94.6 272.0 L92.0 269.5 L89.5 266.8 L87.1 264.0 L84.9 261.0 L82.9 257.9 L80.9 254.7 L79.2 251.4 L77.6 248.1 L76.2 244.6 L74.9 241.0 L73.8 237.4 L72.9 233.7 L72.2 230.0 L71.6 226.2 L71.2 222.4 L71.1 218.6 L71.1 214.8 L71.3 211.1 L71.7 207.3 L72.2 203.5 L73.0 199.8 L73.9 196.2 L75.0 192.6 L76.3 189.1 L77.7 185.7 L79.3 182.3 L81.1 179.1 L83.0 175.9 L85.1 172.9 L87.3 170.0 L89.7 167.3 L92.1 164.7 L94.7 162.2 L97.5 159.9 L100.3 157.8 L103.2 155.8 L106.2 153.9 L109.3 152.3 L112.5 150.8 L115.7 149.6 L119.0 148.5 L122.3 147.5 L125.7 146.8 L129.1 146.3 L132.6 145.9 L136.0 145.8 L139.5 145.8 L142.9 146.1 L146.3 146.5 L149.7 147.1 L153.1 147.9 L156.5 148.9 L159.8 150.1 L163.0 151.5 L166.2 153.1 L169.3 154.8 L172.3 156.7 L175.2 158.8 L178.0 161.0 L180.8 163.4 L183.4 165.9 L185.8 168.6 L188.2 171.4 L190.4 174.4 L192.5 177.5 L194.4 180.7 L196.2 184.0 L197.8 187.4 L199.2 190.8 L200.5 194.4 L201.5 198.0 L202.5 201.7 L203.2 205.4 L203.7 209.2 L204.1 213.0 L204.3 216.8 L204.3 220.6 L204.1 224.4 L203.7 228.1 L203.1 231.9 L202.4 235.6 L201.4 239.2 L200.3 242.8 L199.1 246.3 L197.6 249.8 L196.0 253.1 L194.2 256.3 L192.3 259.5 L190.2 262.5 L188.0 265.4 L185.7 268.1 L183.2 270.7 L180.6 273.2 L177.9 275.5 L175.1 277.7 L172.1 279.7 L169.1 281.5 L166.0 283.1 L162.9 284.6 L159.6 285.9 L156.3 287.0 L153.0 287.9 L149.6 288.6 L146.2 289.1Z" fill="none" stroke="#eeeeee" stroke-width="1.8"/>
<path d="M142.5 286.0 L139.3 286.1 L136.0 286.1 L132.8 285.9 L129.5 285.5 L126.3 284.9 L123.1 284.1 L120.0 283.2 L116.9 282.0 L113.8 280.7 L110.8 279.3 L107.9 277.6 L105.0 275.8 L102.2 273.9 L99.5 271.7 L97.0 269.5 L94.5 267.1 L92.1 264.5 L89.9 261.8 L87.8 259.0 L85.8 256.1 L84.0 253.0 L82.3 249.9 L80.8 246.6 L79.4 243.3 L78.2 239.9 L77.2 236.5 L76.3 233.0 L75.6 229.4 L75.1 225.8 L74.7 222.2 L74.6 218.6 L74.6 214.9 L74.8 211.3 L75.1 207.7 L75.7 204.1 L76.4 200.6 L77.3 197.1 L78.3 193.7 L79.5 190.4 L80.9 187.1 L82.4 183.9 L84.1 180.8 L86.0 177.9 L87.9 175.0 L90.0 172.2 L92.3 169.6 L94.6 167.2 L97.1 164.8 L99.7 162.6 L102.3 160.6 L105.1 158.7 L107.9 157.0 L110.9 155.4 L113.9 154.1 L116.9 152.8 L120.0 151.8 L123.2 150.9 L126.4 150.3 L129.6 149.8 L132.8 149.4 L136.1 149.3 L139.3 149.3 L142.6 149.6 L145.8 150.0 L149.0 150.6 L152.2 151.3 L155.4 152.3 L158.5 153.4 L161.6 154.7 L164.6 156.2 L167.5 157.8 L170.3 159.6 L173.1 161.6 L175.8 163.7 L178.4 166.0 L180.9 168.4 L183.2 170.9 L185.4 173.6 L187.6 176.4 L189.5 179.4 L191.3 182.4 L193.0 185.5 L194.6 188.8 L195.9 192.1 L197.1 195.5 L198.2 199.0 L199.0 202.5 L199.7 206.0 L200.3 209.6 L200.6 213.2 L200.8 216.9 L200.8 220.5 L200.6 224.1 L200.2 227.7 L199.7 231.3 L199.0 234.8 L198.1 238.3 L197.0 241.7 L195.8 245.1 L194.4 248.3 L192.9 251.5 L191.2 254.6 L189.4 257.6 L187.4 260.4 L185.3 263.2 L183.1 265.8 L180.7 268.3 L178.3 270.6 L175.7 272.8 L173.0 274.8 L170.2 276.7 L167.4 278.4 L164.5 280.0 L161.5 281.4 L158.4 282.6 L155.3 283.6 L152.2 284.5 L149.0 285.2 L145.8 285.7Z" fill="none" stroke="#fafafa" stroke-width="4.0"/>
<path d="M142.2 281.5 L139.2 281.6 L136.2 281.6 L133.2 281.4 L130.2 281.0 L127.2 280.5 L124.3 279.8 L121.4 278.9 L118.5 277.8 L115.7 276.6 L112.9 275.3 L110.1 273.8 L107.5 272.1 L104.9 270.3 L102.4 268.3 L100.0 266.2 L97.7 263.9 L95.5 261.5 L93.4 259.0 L91.5 256.4 L89.6 253.6 L87.9 250.8 L86.3 247.9 L84.9 244.8 L83.6 241.7 L82.5 238.5 L81.5 235.3 L80.7 232.0 L80.0 228.6 L79.6 225.3 L79.2 221.9 L79.1 218.5 L79.1 215.1 L79.3 211.7 L79.6 208.3 L80.1 204.9 L80.8 201.6 L81.6 198.4 L82.6 195.1 L83.7 192.0 L85.0 188.9 L86.4 186.0 L88.0 183.1 L89.7 180.3 L91.6 177.6 L93.5 175.1 L95.6 172.6 L97.8 170.3 L100.1 168.2 L102.5 166.1 L105.0 164.2 L107.5 162.5 L110.2 160.9 L112.9 159.5 L115.6 158.2 L118.5 157.1 L121.3 156.1 L124.2 155.3 L127.2 154.7 L130.1 154.2 L133.1 153.9 L136.1 153.8 L139.1 153.8 L142.1 154.0 L145.1 154.4 L148.1 155.0 L151.0 155.7 L154.0 156.5 L156.8 157.6 L159.7 158.8 L162.5 160.1 L165.2 161.7 L167.8 163.3 L170.4 165.2 L172.9 167.1 L175.3 169.3 L177.6 171.5 L179.8 173.9 L181.9 176.4 L183.9 179.0 L185.7 181.8 L187.4 184.6 L189.0 187.6 L190.4 190.6 L191.7 193.7 L192.9 196.9 L193.8 200.1 L194.6 203.4 L195.3 206.8 L195.8 210.2 L196.1 213.5 L196.3 217.0 L196.3 220.4 L196.1 223.8 L195.7 227.1 L195.2 230.5 L194.6 233.8 L193.7 237.1 L192.8 240.3 L191.6 243.4 L190.3 246.5 L188.9 249.5 L187.3 252.3 L185.6 255.1 L183.8 257.8 L181.8 260.3 L179.7 262.8 L177.5 265.1 L175.2 267.3 L172.9 269.3 L170.4 271.2 L167.8 272.9 L165.2 274.5 L162.5 275.9 L159.7 277.2 L156.9 278.3 L154.0 279.3 L151.1 280.1 L148.2 280.7 L145.2 281.2Z" fill="none" stroke="#f1f1f1" stroke-width="1.6"/>
<path d="M141.7 274.0 L139.1 274.1 L136.5 274.1 L133.9 273.9 L131.4 273.6 L128.8 273.1 L126.2 272.5 L123.7 271.8 L121.2 270.9 L118.8 269.8 L116.3 268.6 L114.0 267.3 L111.7 265.8 L109.4 264.3 L107.2 262.5 L105.1 260.7 L103.1 258.7 L101.2 256.6 L99.3 254.4 L97.6 252.1 L95.9 249.6 L94.4 247.1 L93.0 244.5 L91.8 241.8 L90.6 239.0 L89.6 236.2 L88.7 233.3 L88.0 230.4 L87.4 227.4 L87.0 224.4 L86.7 221.3 L86.6 218.3 L86.6 215.3 L86.7 212.2 L87.0 209.2 L87.5 206.2 L88.1 203.3 L88.8 200.4 L89.7 197.5 L90.7 194.7 L91.8 192.0 L93.1 189.4 L94.5 186.9 L96.0 184.4 L97.6 182.0 L99.4 179.8 L101.2 177.7 L103.1 175.6 L105.1 173.7 L107.2 172.0 L109.3 170.3 L111.6 168.8 L113.9 167.4 L116.2 166.2 L118.6 165.1 L121.0 164.1 L123.5 163.3 L126.0 162.6 L128.5 162.1 L131.1 161.7 L133.7 161.4 L136.2 161.3 L138.8 161.3 L141.4 161.5 L144.0 161.8 L146.5 162.3 L149.1 162.9 L151.6 163.7 L154.1 164.6 L156.6 165.6 L159.0 166.8 L161.4 168.1 L163.7 169.6 L165.9 171.2 L168.1 172.9 L170.2 174.8 L172.2 176.7 L174.2 178.8 L176.0 181.0 L177.8 183.4 L179.4 185.8 L180.9 188.3 L182.3 190.9 L183.6 193.6 L184.7 196.4 L185.7 199.2 L186.6 202.1 L187.3 205.1 L187.9 208.0 L188.3 211.1 L188.6 214.1 L188.8 217.1 L188.8 220.2 L188.6 223.2 L188.3 226.2 L187.9 229.2 L187.3 232.1 L186.5 235.0 L185.6 237.9 L184.6 240.7 L183.5 243.4 L182.2 246.0 L180.8 248.6 L179.3 251.0 L177.7 253.4 L176.0 255.6 L174.2 257.8 L172.2 259.8 L170.2 261.7 L168.2 263.4 L166.0 265.1 L163.8 266.6 L161.5 268.0 L159.1 269.2 L156.7 270.3 L154.3 271.3 L151.8 272.1 L149.3 272.8 L146.8 273.4 L144.2 273.8Z" fill="none" stroke="#f3f3f3" stroke-width="1.5"/>
<path d="M143.5 299.9 L139.5 300.1 L135.5 300.1 L131.4 299.8 L127.4 299.3 L123.4 298.6 L119.5 297.6 L115.6 296.4 L111.7 295.1 L108.0 293.5 L104.3 291.7 L100.7 289.7 L97.2 287.5 L93.8 285.1 L90.6 282.5 L87.4 279.7 L84.4 276.8 L81.6 273.7 L78.9 270.5 L76.4 267.1 L74.0 263.6 L71.8 259.9 L69.8 256.2 L68.0 252.3 L66.3 248.3 L64.9 244.3 L63.7 240.2 L62.6 236.0 L61.8 231.8 L61.2 227.5 L60.8 223.2 L60.6 218.9 L60.6 214.6 L60.8 210.3 L61.2 206.0 L61.9 201.7 L62.7 197.5 L63.8 193.4 L65.0 189.3 L66.5 185.3 L68.1 181.3 L70.0 177.5 L72.0 173.8 L74.2 170.2 L76.6 166.8 L79.2 163.4 L81.9 160.3 L84.7 157.2 L87.7 154.4 L90.9 151.7 L94.1 149.2 L97.5 146.9 L101.0 144.8 L104.6 142.9 L108.3 141.2 L112.1 139.7 L116.0 138.4 L119.9 137.3 L123.8 136.5 L127.8 135.9 L131.8 135.5 L135.8 135.3 L139.9 135.4 L143.9 135.6 L147.9 136.1 L151.9 136.9 L155.9 137.8 L159.8 139.0 L163.6 140.4 L167.4 142.0 L171.0 143.8 L174.6 145.8 L178.1 148.0 L181.5 150.4 L184.8 152.9 L187.9 155.7 L190.9 158.6 L193.7 161.7 L196.4 164.9 L199.0 168.3 L201.3 171.8 L203.5 175.5 L205.5 179.3 L207.4 183.1 L209.0 187.1 L210.4 191.1 L211.7 195.3 L212.7 199.4 L213.5 203.7 L214.2 207.9 L214.6 212.2 L214.8 216.5 L214.8 220.9 L214.5 225.2 L214.1 229.5 L213.5 233.7 L212.6 237.9 L211.6 242.1 L210.3 246.2 L208.8 250.2 L207.2 254.1 L205.4 257.9 L203.3 261.6 L201.1 265.2 L198.7 268.7 L196.2 272.0 L193.5 275.2 L190.6 278.2 L187.6 281.0 L184.5 283.7 L181.2 286.2 L177.8 288.5 L174.3 290.6 L170.7 292.5 L167.0 294.2 L163.2 295.7 L159.4 297.0 L155.5 298.1 L151.5 298.9 L147.5 299.5Z" fill="none" stroke="#8e8e8e" stroke-width="1.15"/>
<path d="M417.4 239.3 L418.7 242.8 L419.8 246.5 L420.4 250.3 L420.8 254.2 L420.7 258.3 L420.3 262.4 L419.6 266.6 L418.5 271.0 L417.0 275.3 L415.2 279.8 L413.1 284.3 L410.6 288.8 L407.8 293.3 L404.7 297.9 L401.3 302.4 L397.6 307.0 L393.5 311.4 L389.2 315.9 L384.7 320.3 L379.8 324.6 L374.8 328.9 L369.5 333.0 L363.9 337.1 L358.2 341.0 L352.3 344.9 L346.3 348.6 L340.1 352.1 L333.7 355.5 L327.2 358.7 L320.7 361.8 L314.0 364.7 L307.3 367.4 L300.6 369.8 L293.8 372.1 L287.0 374.2 L280.2 376.1 L273.5 377.7 L266.8 379.2 L260.1 380.4 L253.6 381.3 L247.1 382.1 L240.8 382.6 L234.6 382.8 L228.6 382.8 L222.7 382.6 L217.1 382.2 L211.6 381.5 L206.4 380.5 L201.3 379.4 L196.6 378.0 L192.0 376.4 L187.8 374.6 L183.8 372.5 L180.2 370.2 L176.8 367.8 L173.8 365.1 L171.0 362.3 L168.6 359.3 L166.6 356.1 L164.9 352.7 L163.5 349.2 L162.5 345.5 L161.8 341.7 L161.5 337.8 L161.5 333.7 L161.9 329.6 L162.7 325.3 L163.8 321.0 L165.2 316.6 L167.0 312.2 L169.1 307.7 L171.6 303.2 L174.4 298.6 L177.5 294.1 L181.0 289.6 L184.7 285.0 L188.7 280.5 L193.0 276.1 L197.6 271.7 L202.4 267.4 L207.5 263.1 L212.8 258.9 L218.3 254.9 L224.0 250.9 L229.9 247.1 L236.0 243.4 L242.2 239.9 L248.5 236.5 L255.0 233.2 L261.6 230.2 L268.2 227.3 L274.9 224.6 L281.7 222.1 L288.5 219.8 L295.2 217.8 L302.0 215.9 L308.8 214.2 L315.5 212.8 L322.1 211.6 L328.6 210.7 L335.1 209.9 L341.4 209.4 L347.6 209.2 L353.6 209.2 L359.5 209.4 L365.2 209.8 L370.6 210.5 L375.9 211.4 L380.9 212.6 L385.7 214.0 L390.2 215.6 L394.4 217.4 L398.4 219.5 L402.1 221.7 L405.4 224.2 L408.5 226.8 L411.2 229.7 L413.6 232.7 L415.6 235.9Z" fill="#f7f7f7" stroke="none"/>
<path d="M413.3 241.1 L414.5 244.2 L415.4 247.5 L416.0 250.9 L416.3 254.4 L416.2 258.0 L415.9 261.8 L415.2 265.7 L414.2 269.7 L412.8 273.8 L411.1 278.0 L409.1 282.2 L406.7 286.5 L404.1 290.9 L401.1 295.3 L397.8 299.6 L394.1 304.0 L390.2 308.4 L386.1 312.7 L381.6 317.0 L376.9 321.2 L371.9 325.4 L366.7 329.5 L361.3 333.4 L355.7 337.3 L349.9 341.1 L344.0 344.7 L337.9 348.2 L331.6 351.5 L325.3 354.7 L318.8 357.7 L312.3 360.5 L305.7 363.2 L299.1 365.6 L292.4 367.9 L285.7 369.9 L279.1 371.7 L272.5 373.4 L265.9 374.7 L259.4 375.9 L253.0 376.9 L246.7 377.6 L240.5 378.1 L234.5 378.3 L228.7 378.3 L223.0 378.1 L217.5 377.7 L212.3 377.0 L207.2 376.1 L202.5 375.0 L197.9 373.7 L193.7 372.2 L189.7 370.5 L186.1 368.6 L182.7 366.5 L179.6 364.3 L176.9 361.9 L174.4 359.3 L172.3 356.6 L170.5 353.8 L169.0 350.8 L167.8 347.7 L166.9 344.5 L166.3 341.1 L166.0 337.6 L166.0 334.0 L166.4 330.2 L167.1 326.3 L168.1 322.3 L169.4 318.2 L171.1 314.0 L173.1 309.8 L175.5 305.4 L178.2 301.1 L181.2 296.7 L184.5 292.3 L188.1 288.0 L192.0 283.6 L196.2 279.3 L200.6 275.0 L205.3 270.8 L210.3 266.6 L215.5 262.5 L220.9 258.5 L226.5 254.7 L232.3 250.9 L238.2 247.3 L244.4 243.8 L250.6 240.5 L257.0 237.3 L263.4 234.3 L269.9 231.5 L276.5 228.8 L283.2 226.4 L289.8 224.1 L296.5 222.1 L303.2 220.2 L309.8 218.6 L316.3 217.2 L322.8 216.1 L329.2 215.1 L335.5 214.4 L341.7 213.9 L347.7 213.7 L353.6 213.6 L359.2 213.9 L364.7 214.3 L370.0 215.0 L375.0 215.9 L379.8 217.0 L384.3 218.3 L388.5 219.8 L392.5 221.5 L396.2 223.4 L399.5 225.5 L402.6 227.7 L405.4 230.1 L407.8 232.7 L409.9 235.3 L411.7 238.2Z" fill="none" stroke="#fcfcfc" stroke-width="7.0"/>
<path d="M407.8 243.6 L408.8 246.1 L409.5 248.8 L410.0 251.6 L410.3 254.6 L410.2 257.7 L409.9 261.0 L409.3 264.4 L408.4 268.0 L407.2 271.7 L405.6 275.6 L403.7 279.5 L401.5 283.5 L399.0 287.6 L396.2 291.7 L393.0 295.9 L389.6 300.1 L385.8 304.3 L381.8 308.5 L377.5 312.6 L373.0 316.7 L368.1 320.7 L363.1 324.7 L357.9 328.6 L352.4 332.3 L346.8 336.0 L340.9 339.5 L335.0 342.9 L328.9 346.2 L322.7 349.3 L316.4 352.2 L310.0 355.0 L303.5 357.6 L297.1 359.9 L290.6 362.1 L284.1 364.1 L277.6 365.9 L271.1 367.5 L264.7 368.9 L258.4 370.0 L252.2 370.9 L246.1 371.6 L240.2 372.1 L234.4 372.3 L228.8 372.3 L223.4 372.1 L218.1 371.7 L213.2 371.1 L208.4 370.2 L204.0 369.2 L199.8 368.0 L195.9 366.6 L192.3 365.1 L189.0 363.4 L186.0 361.5 L183.4 359.6 L181.0 357.5 L179.0 355.4 L177.2 353.1 L175.7 350.8 L174.4 348.4 L173.5 345.8 L172.7 343.2 L172.2 340.4 L172.0 337.4 L172.0 334.3 L172.3 331.0 L172.9 327.6 L173.8 324.0 L175.1 320.3 L176.6 316.4 L178.5 312.5 L180.7 308.5 L183.2 304.4 L186.0 300.2 L189.2 296.1 L192.6 291.9 L196.4 287.7 L200.4 283.5 L204.7 279.4 L209.3 275.3 L214.1 271.3 L219.1 267.3 L224.4 263.4 L229.8 259.7 L235.5 256.0 L241.3 252.5 L247.3 249.1 L253.4 245.8 L259.6 242.7 L265.9 239.8 L272.3 237.0 L278.7 234.4 L285.2 232.0 L291.7 229.8 L298.2 227.8 L304.7 226.1 L311.1 224.5 L317.5 223.1 L323.8 222.0 L330.0 221.1 L336.1 220.4 L342.0 219.9 L347.8 219.7 L353.5 219.6 L358.9 219.9 L364.1 220.3 L369.1 220.9 L373.8 221.7 L378.3 222.8 L382.5 224.0 L386.3 225.4 L389.9 226.9 L393.2 228.6 L396.2 230.4 L398.9 232.4 L401.2 234.4 L403.3 236.6 L405.0 238.8 L406.5 241.2Z" fill="none" stroke="#eeeeee" stroke-width="1.8"/>
<path d="M404.6 245.0 L405.5 247.2 L406.1 249.6 L406.5 252.1 L406.8 254.7 L406.7 257.5 L406.4 260.5 L405.9 263.7 L405.0 267.0 L403.9 270.5 L402.4 274.2 L400.6 277.9 L398.5 281.8 L396.1 285.7 L393.4 289.7 L390.3 293.8 L386.9 297.8 L383.3 301.9 L379.3 306.0 L375.1 310.0 L370.7 314.0 L365.9 318.0 L361.0 321.9 L355.8 325.7 L350.4 329.4 L344.9 333.0 L339.2 336.5 L333.3 339.9 L327.3 343.1 L321.2 346.1 L314.9 349.0 L308.6 351.7 L302.3 354.3 L295.9 356.6 L289.5 358.8 L283.1 360.8 L276.7 362.5 L270.3 364.1 L264.1 365.4 L257.9 366.5 L251.8 367.4 L245.8 368.1 L240.0 368.6 L234.3 368.8 L228.8 368.8 L223.6 368.6 L218.5 368.2 L213.7 367.6 L209.1 366.8 L204.9 365.8 L200.9 364.7 L197.2 363.4 L193.8 361.9 L190.7 360.3 L188.0 358.6 L185.6 356.8 L183.4 355.0 L181.6 353.1 L180.0 351.1 L178.7 349.1 L177.6 347.0 L176.8 344.7 L176.1 342.4 L175.7 339.9 L175.5 337.3 L175.5 334.5 L175.8 331.5 L176.3 328.3 L177.2 325.0 L178.4 321.5 L179.8 317.8 L181.6 314.1 L183.7 310.2 L186.1 306.3 L188.9 302.3 L191.9 298.2 L195.3 294.2 L199.0 290.1 L202.9 286.0 L207.1 281.9 L211.6 277.9 L216.3 274.0 L221.2 270.1 L226.4 266.3 L231.8 262.6 L237.3 259.0 L243.1 255.5 L248.9 252.1 L255.0 248.9 L261.1 245.9 L267.3 243.0 L273.6 240.2 L280.0 237.7 L286.3 235.3 L292.8 233.2 L299.2 231.2 L305.5 229.4 L311.9 227.9 L318.2 226.6 L324.4 225.4 L330.5 224.5 L336.4 223.9 L342.3 223.4 L347.9 223.2 L353.4 223.1 L358.7 223.3 L363.7 223.8 L368.5 224.4 L373.1 225.2 L377.4 226.1 L381.4 227.3 L385.1 228.6 L388.4 230.1 L391.5 231.7 L394.3 233.4 L396.7 235.1 L398.8 237.0 L400.6 238.9 L402.2 240.9 L403.5 242.9Z" fill="none" stroke="#fafafa" stroke-width="4.0"/>
<path d="M400.5 246.9 L401.2 248.7 L401.7 250.6 L402.1 252.6 L402.3 254.9 L402.2 257.3 L402.0 259.9 L401.5 262.7 L400.7 265.8 L399.7 269.0 L398.3 272.3 L396.6 275.9 L394.6 279.5 L392.3 283.2 L389.7 287.1 L386.8 291.0 L383.5 294.9 L380.0 298.8 L376.2 302.8 L372.1 306.7 L367.7 310.6 L363.1 314.5 L358.3 318.3 L353.2 322.0 L347.9 325.7 L342.5 329.2 L336.9 332.6 L331.1 335.9 L325.2 339.1 L319.2 342.1 L313.1 344.9 L306.9 347.6 L300.7 350.1 L294.4 352.4 L288.1 354.5 L281.8 356.5 L275.6 358.2 L269.3 359.7 L263.2 361.0 L257.1 362.1 L251.2 363.0 L245.4 363.6 L239.7 364.1 L234.2 364.3 L228.9 364.3 L223.8 364.1 L219.0 363.8 L214.4 363.2 L210.0 362.4 L206.0 361.5 L202.2 360.4 L198.8 359.2 L195.7 357.8 L192.9 356.4 L190.5 354.9 L188.4 353.3 L186.5 351.7 L185.0 350.1 L183.7 348.5 L182.6 346.8 L181.7 345.1 L181.0 343.3 L180.5 341.4 L180.2 339.4 L180.0 337.1 L180.0 334.7 L180.2 332.1 L180.7 329.2 L181.5 326.2 L182.6 323.0 L183.9 319.6 L185.6 316.1 L187.6 312.5 L189.9 308.7 L192.5 304.9 L195.5 301.0 L198.7 297.1 L202.2 293.1 L206.1 289.2 L210.2 285.2 L214.5 281.3 L219.1 277.5 L224.0 273.7 L229.0 269.9 L234.3 266.3 L239.7 262.8 L245.4 259.4 L251.1 256.1 L257.0 252.9 L263.0 249.9 L269.1 247.1 L275.3 244.4 L281.6 241.9 L287.8 239.6 L294.1 237.4 L300.4 235.5 L306.7 233.8 L312.9 232.3 L319.0 231.0 L325.1 229.9 L331.0 229.0 L336.9 228.3 L342.5 227.9 L348.0 227.7 L353.3 227.6 L358.4 227.8 L363.3 228.2 L367.9 228.8 L372.2 229.6 L376.3 230.5 L380.0 231.6 L383.4 232.8 L386.5 234.2 L389.3 235.6 L391.7 237.1 L393.9 238.6 L395.7 240.2 L397.2 241.9 L398.5 243.5 L399.6 245.2Z" fill="none" stroke="#f1f1f1" stroke-width="1.6"/>
<path d="M393.6 249.9 L394.1 251.0 L394.4 252.2 L394.6 253.6 L394.8 255.1 L394.7 256.9 L394.6 258.9 L394.2 261.1 L393.5 263.6 L392.6 266.4 L391.4 269.3 L389.9 272.4 L388.1 275.7 L386.0 279.2 L383.6 282.7 L380.9 286.3 L377.8 290.0 L374.5 293.7 L370.9 297.5 L367.0 301.2 L362.8 305.0 L358.4 308.7 L353.7 312.3 L348.9 315.9 L343.8 319.4 L338.5 322.9 L333.1 326.2 L327.5 329.3 L321.8 332.4 L315.9 335.3 L310.0 338.1 L304.0 340.7 L298.0 343.1 L291.9 345.3 L285.8 347.4 L279.7 349.3 L273.7 350.9 L267.7 352.4 L261.8 353.7 L255.9 354.7 L250.2 355.5 L244.7 356.2 L239.3 356.6 L234.0 356.8 L229.0 356.8 L224.3 356.7 L219.7 356.3 L215.5 355.8 L211.5 355.1 L207.9 354.2 L204.5 353.3 L201.6 352.2 L198.9 351.0 L196.6 349.9 L194.7 348.7 L193.0 347.5 L191.7 346.3 L190.6 345.2 L189.8 344.1 L189.1 343.1 L188.6 342.0 L188.2 340.9 L187.8 339.7 L187.6 338.4 L187.5 336.9 L187.5 335.1 L187.7 333.1 L188.1 330.8 L188.7 328.3 L189.6 325.6 L190.8 322.7 L192.3 319.5 L194.1 316.2 L196.2 312.8 L198.6 309.3 L201.4 305.7 L204.4 302.0 L207.7 298.2 L211.4 294.5 L215.3 290.7 L219.4 287.0 L223.9 283.3 L228.5 279.6 L233.4 276.0 L238.5 272.5 L243.7 269.1 L249.2 265.8 L254.7 262.6 L260.5 259.6 L266.3 256.7 L272.2 253.9 L278.2 251.3 L284.3 248.9 L290.3 246.6 L296.4 244.6 L302.5 242.7 L308.6 241.1 L314.6 239.6 L320.5 238.3 L326.3 237.3 L332.0 236.4 L337.6 235.8 L343.0 235.4 L348.2 235.2 L353.2 235.1 L358.0 235.3 L362.5 235.7 L366.8 236.2 L370.7 236.9 L374.4 237.8 L377.7 238.7 L380.7 239.8 L383.3 240.9 L385.6 242.1 L387.6 243.3 L389.2 244.5 L390.5 245.7 L391.6 246.8 L392.4 247.9 L393.1 248.9Z" fill="none" stroke="#f3f3f3" stroke-width="1.5"/>
<path d="M417.4 239.3 L418.7 242.8 L419.8 246.5 L420.4 250.3 L420.8 254.2 L420.7 258.3 L420.3 262.4 L419.6 266.6 L418.5 271.0 L417.0 275.3 L415.2 279.8 L413.1 284.3 L410.6 288.8 L407.8 293.3 L404.7 297.9 L401.3 302.4 L397.6 307.0 L393.5 311.4 L389.2 315.9 L384.7 320.3 L379.8 324.6 L374.8 328.9 L369.5 333.0 L363.9 337.1 L358.2 341.0 L352.3 344.9 L346.3 348.6 L340.1 352.1 L333.7 355.5 L327.2 358.7 L320.7 361.8 L314.0 364.7 L307.3 367.4 L300.6 369.8 L293.8 372.1 L287.0 374.2 L280.2 376.1 L273.5 377.7 L266.8 379.2 L260.1 380.4 L253.6 381.3 L247.1 382.1 L240.8 382.6 L234.6 382.8 L228.6 382.8 L222.7 382.6 L217.1 382.2 L211.6 381.5 L206.4 380.5 L201.3 379.4 L196.6 378.0 L192.0 376.4 L187.8 374.6 L183.8 372.5 L180.2 370.2 L176.8 367.8 L173.8 365.1 L171.0 362.3 L168.6 359.3 L166.6 356.1 L164.9 352.7 L163.5 349.2 L162.5 345.5 L161.8 341.7 L161.5 337.8 L161.5 333.7 L161.9 329.6 L162.7 325.3 L163.8 321.0 L165.2 316.6 L167.0 312.2 L169.1 307.7 L171.6 303.2 L174.4 298.6 L177.5 294.1 L181.0 289.6 L184.7 285.0 L188.7 280.5 L193.0 276.1 L197.6 271.7 L202.4 267.4 L207.5 263.1 L212.8 258.9 L218.3 254.9 L224.0 250.9 L229.9 247.1 L236.0 243.4 L242.2 239.9 L248.5 236.5 L255.0 233.2 L261.6 230.2 L268.2 227.3 L274.9 224.6 L281.7 222.1 L288.5 219.8 L295.2 217.8 L302.0 215.9 L308.8 214.2 L315.5 212.8 L322.1 211.6 L328.6 210.7 L335.1 209.9 L341.4 209.4 L347.6 209.2 L353.6 209.2 L359.5 209.4 L365.2 209.8 L370.6 210.5 L375.9 211.4 L380.9 212.6 L385.7 214.0 L390.2 215.6 L394.4 217.4 L398.4 219.5 L402.1 221.7 L405.4 224.2 L408.5 226.8 L411.2 229.7 L413.6 232.7 L415.6 235.9Z" fill="none" stroke="#8e8e8e" stroke-width="1.15"/>
<line x1="243.8" y1="204.8" x2="250.5" y2="196.7" stroke="#8a8a8a" stroke-width="1.0"/>
<line x1="250.5" y1="196.7" x2="265.3" y2="188.1" stroke="#8a8a8a" stroke-width="1.0"/>
<line x1="263.5" y1="242.2" x2="283.1" y2="247" stroke="#8a8a8a" stroke-width="1.0"/>
<line x1="283.1" y1="247" x2="291.2" y2="247" stroke="#8a8a8a" stroke-width="1.0"/>
<line x1="243.8" y1="204.8" x2="229.6" y2="165.5" stroke="#303030" stroke-width="1.15"/>
<line x1="229.6" y1="165.5" x2="225.7" y2="151.3" stroke="#303030" stroke-width="1.15"/>
<line x1="225.7" y1="151.3" x2="219" y2="127.5" stroke="#303030" stroke-width="1.15"/>
<line x1="243.8" y1="204.8" x2="192.7" y2="203.3" stroke="#303030" stroke-width="1.15"/>
<line x1="192.7" y1="203.3" x2="173.8" y2="196.9" stroke="#303030" stroke-width="1.15"/>
<line x1="192.7" y1="203.3" x2="181.5" y2="201" stroke="#303030" stroke-width="1.15"/>
<line x1="192.7" y1="203.3" x2="181.5" y2="206.5" stroke="#303030" stroke-width="1.15"/>
<line x1="243.8" y1="204.8" x2="258.5" y2="235.1" stroke="#303030" stroke-width="1.15"/>
<line x1="258.5" y1="235.1" x2="261.3" y2="239" stroke="#303030" stroke-width="1.15"/>
<line x1="261.3" y1="239" x2="263.5" y2="242.2" stroke="#303030" stroke-width="1.15"/>
<line x1="263.5" y1="242.2" x2="270.5" y2="262" stroke="#303030" stroke-width="1.15"/>
<line x1="250.5" y1="196.7" x2="269.8" y2="130.5" stroke="#303030" stroke-width="1.15"/>
<line x1="265.3" y1="188.1" x2="367.5" y2="141.2" stroke="#303030" stroke-width="1.15"/>
<line x1="229.6" y1="165.5" x2="161.9" y2="79.6" stroke="#303030" stroke-width="1.15"/>
<line x1="161.9" y1="79.6" x2="145.6" y2="58.6" stroke="#7a14b4" stroke-width="1.7"/>
<line x1="229.6" y1="165.5" x2="177.4" y2="78.3" stroke="#303030" stroke-width="1.15"/>
<line x1="177.4" y1="78.3" x2="164.7" y2="59.1" stroke="#7a14b4" stroke-width="1.6"/>
<line x1="219" y1="127.5" x2="197.7" y2="78.7" stroke="#303030" stroke-width="1.15"/>
<line x1="197.7" y1="78.7" x2="183.8" y2="52.8" stroke="#7a14b4" stroke-width="1.0"/>
<line x1="197.7" y1="78.7" x2="185" y2="51.3" stroke="#7a14b4" stroke-width="1.0"/>
<line x1="197.7" y1="78.7" x2="186.2" y2="50.3" stroke="#7a14b4" stroke-width="1.0"/>
<line x1="197.7" y1="78.7" x2="187.4" y2="49.5" stroke="#7a14b4" stroke-width="1.0"/>
<line x1="197.7" y1="78.7" x2="188.4" y2="49" stroke="#7a14b4" stroke-width="1.0"/>
<line x1="219" y1="127.5" x2="212.1" y2="92.4" stroke="#303030" stroke-width="1.15"/>
<line x1="212.1" y1="92.4" x2="202.2" y2="57.9" stroke="#e83cf0" stroke-width="1.25"/>
<line x1="219" y1="127.5" x2="212.4" y2="92" stroke="#303030" stroke-width="1.15"/>
<line x1="212.4" y1="92" x2="204.4" y2="58.5" stroke="#e83cf0" stroke-width="1.25"/>
<line x1="219" y1="127.5" x2="213.5" y2="80" stroke="#303030" stroke-width="1.15"/>
<line x1="213.5" y1="80" x2="208.2" y2="49.2" stroke="#e83cf0" stroke-width="1.25"/>
<line x1="219" y1="127.5" x2="213.8" y2="80" stroke="#303030" stroke-width="1.15"/>
<line x1="213.8" y1="80" x2="209.3" y2="48" stroke="#e83cf0" stroke-width="1.25"/>
<line x1="219" y1="127.5" x2="216.4" y2="66.8" stroke="#303030" stroke-width="1.15"/>
<line x1="216.4" y1="66.8" x2="215.9" y2="49.2" stroke="#e83cf0" stroke-width="1.25"/>
<line x1="269.8" y1="130.5" x2="268.9" y2="73.2" stroke="#303030" stroke-width="1.15"/>
<line x1="268.9" y1="73.2" x2="266.7" y2="34.5" stroke="#1fe01f" stroke-width="1.25"/>
<line x1="269.8" y1="130.5" x2="269.2" y2="73.2" stroke="#303030" stroke-width="1.15"/>
<line x1="269.2" y1="73.2" x2="270.3" y2="39.6" stroke="#1fe01f" stroke-width="1.25"/>
<line x1="269.8" y1="130.5" x2="269" y2="73.2" stroke="#303030" stroke-width="1.15"/>
<line x1="269" y1="73.2" x2="268.3" y2="42" stroke="#1fe01f" stroke-width="1.25"/>
<line x1="269.8" y1="130.5" x2="279.8" y2="55.6" stroke="#303030" stroke-width="1.15"/>
<line x1="279.8" y1="55.6" x2="283.5" y2="33" stroke="#1fe01f" stroke-width="1.25"/>
<line x1="269.8" y1="130.5" x2="276.1" y2="107.7" stroke="#303030" stroke-width="1.15"/>
<line x1="276.1" y1="107.7" x2="289.3" y2="49.8" stroke="#1fe01f" stroke-width="1.25"/>
<line x1="269.8" y1="130.5" x2="276.6" y2="107.7" stroke="#303030" stroke-width="1.15"/>
<line x1="276.6" y1="107.7" x2="290.3" y2="56.4" stroke="#1fe01f" stroke-width="1.25"/>
<line x1="269.8" y1="130.5" x2="292.2" y2="71.7" stroke="#303030" stroke-width="1.15"/>
<line x1="292.2" y1="71.7" x2="299.5" y2="48.3" stroke="#1fe01f" stroke-width="1.25"/>
<line x1="269.8" y1="130.5" x2="301" y2="67.3" stroke="#303030" stroke-width="1.15"/>
<line x1="301" y1="67.3" x2="311.2" y2="45.4" stroke="#1fe01f" stroke-width="1.25"/>
<line x1="269.8" y1="130.5" x2="300.5" y2="66.9" stroke="#303030" stroke-width="1.15"/>
<line x1="300.5" y1="66.9" x2="309.8" y2="46.1" stroke="#1fe01f" stroke-width="1.25"/>
<line x1="269.8" y1="130.5" x2="310.3" y2="70.7" stroke="#303030" stroke-width="1.15"/>
<line x1="310.3" y1="70.7" x2="320.7" y2="52.7" stroke="#1fe01f" stroke-width="1.25"/>
<line x1="269.8" y1="130.5" x2="311" y2="70" stroke="#303030" stroke-width="1.15"/>
<line x1="311" y1="70" x2="319.5" y2="54.5" stroke="#1fe01f" stroke-width="1.25"/>
<line x1="265.3" y1="188.1" x2="338.8" y2="85.5" stroke="#303030" stroke-width="1.15"/>
<line x1="338.8" y1="85.5" x2="360.7" y2="54.6" stroke="#5c1ea8" stroke-width="1.5"/>
<line x1="353" y1="66" x2="356.4" y2="62.3" stroke="#5c1ea8" stroke-width="1.0"/>
<line x1="265.3" y1="188.1" x2="269.3" y2="190.7" stroke="#303030" stroke-width="1.15"/>
<line x1="269.3" y1="190.7" x2="491.5" y2="186.2" stroke="#f2ec2a" stroke-width="1.3"/>
<line x1="367.5" y1="141.2" x2="405.6" y2="95.1" stroke="#303030" stroke-width="1.15"/>
<line x1="405.6" y1="95.1" x2="423.4" y2="74.9" stroke="#1c1ce8" stroke-width="1.25"/>
<line x1="405.6" y1="95.1" x2="424.4" y2="74.4" stroke="#1c1ce8" stroke-width="1.25"/>
<line x1="405.6" y1="95.1" x2="421.5" y2="76.5" stroke="#1c1ce8" stroke-width="1.25"/>
<line x1="405.6" y1="95.1" x2="420" y2="77.8" stroke="#1c1ce8" stroke-width="1.25"/>
<line x1="367.5" y1="141.2" x2="377" y2="134" stroke="#303030" stroke-width="1.15"/>
<line x1="377" y1="134" x2="431" y2="88.5" stroke="#1c1ce8" stroke-width="1.25"/>
<line x1="367.5" y1="141.2" x2="380" y2="133" stroke="#303030" stroke-width="1.15"/>
<line x1="380" y1="133" x2="442.5" y2="88.2" stroke="#1c1ce8" stroke-width="1.25"/>
<line x1="367.5" y1="141.2" x2="400" y2="117" stroke="#303030" stroke-width="1.15"/>
<line x1="400" y1="117" x2="449.8" y2="93.8" stroke="#1c1ce8" stroke-width="1.25"/>
<line x1="367.5" y1="141.2" x2="420.5" y2="113.2" stroke="#303030" stroke-width="1.15"/>
<line x1="420.5" y1="113.2" x2="441.8" y2="102.9" stroke="#1c1ce8" stroke-width="1.25"/>
<line x1="367.5" y1="141.2" x2="418.7" y2="122.4" stroke="#303030" stroke-width="1.15"/>
<line x1="418.7" y1="122.4" x2="445.4" y2="113.2" stroke="#2050ee" stroke-width="1.25"/>
<line x1="367.5" y1="141.2" x2="385" y2="137" stroke="#303030" stroke-width="1.15"/>
<line x1="385" y1="137" x2="443.6" y2="120.5" stroke="#2f78f2" stroke-width="1.25"/>
<line x1="367.5" y1="141.2" x2="390" y2="137.5" stroke="#303030" stroke-width="1.15"/>
<line x1="390" y1="137.5" x2="444.8" y2="126.4" stroke="#2f78f2" stroke-width="1.25"/>
<line x1="367.5" y1="141.2" x2="415" y2="133" stroke="#303030" stroke-width="1.15"/>
<line x1="415" y1="133" x2="446.7" y2="130.3" stroke="#2f78f2" stroke-width="1.25"/>
<line x1="367.5" y1="141.2" x2="385" y2="139" stroke="#303030" stroke-width="1.15"/>
<line x1="385" y1="139" x2="444.8" y2="133.9" stroke="#2f78f2" stroke-width="1.25"/>
<line x1="367.5" y1="141.2" x2="380" y2="140" stroke="#303030" stroke-width="1.15"/>
<line x1="380" y1="140" x2="453.4" y2="137.6" stroke="#2f78f2" stroke-width="1.25"/>
<line x1="367.5" y1="141.2" x2="416.9" y2="141.8" stroke="#303030" stroke-width="1.15"/>
<line x1="416.9" y1="141.8" x2="450.3" y2="141.8" stroke="#2f78f2" stroke-width="1.25"/>
<line x1="367.5" y1="141.2" x2="390" y2="141.5" stroke="#303030" stroke-width="1.15"/>
<line x1="390" y1="141.5" x2="449.1" y2="143.2" stroke="#2f78f2" stroke-width="1.25"/>
<line x1="173.8" y1="196.9" x2="163.4" y2="183.4" stroke="#303030" stroke-width="1.15"/>
<line x1="163.4" y1="183.4" x2="137.3" y2="146.6" stroke="#e01414" stroke-width="1.25"/>
<line x1="173.8" y1="196.9" x2="153" y2="172.6" stroke="#303030" stroke-width="1.15"/>
<line x1="153" y1="172.6" x2="135.1" y2="150.9" stroke="#e01414" stroke-width="1.25"/>
<line x1="173.8" y1="196.9" x2="143.2" y2="166.3" stroke="#303030" stroke-width="1.15"/>
<line x1="143.2" y1="166.3" x2="132.2" y2="153.9" stroke="#e01414" stroke-width="1.25"/>
<line x1="173.8" y1="196.9" x2="138.8" y2="169.2" stroke="#303030" stroke-width="1.15"/>
<line x1="138.8" y1="169.2" x2="124.9" y2="156.8" stroke="#e01414" stroke-width="1.25"/>
<line x1="173.8" y1="196.9" x2="156.3" y2="185.3" stroke="#303030" stroke-width="1.15"/>
<line x1="156.3" y1="185.3" x2="109.6" y2="153.9" stroke="#e01414" stroke-width="1.25"/>
<line x1="173.8" y1="196.9" x2="137.3" y2="172.1" stroke="#303030" stroke-width="1.15"/>
<line x1="137.3" y1="172.1" x2="109.6" y2="157.5" stroke="#e01414" stroke-width="1.25"/>
<line x1="173.8" y1="196.9" x2="130" y2="178" stroke="#303030" stroke-width="1.15"/>
<line x1="130" y1="178" x2="111.8" y2="169.2" stroke="#e01414" stroke-width="1.25"/>
<line x1="130" y1="178" x2="112.3" y2="168.1" stroke="#e01414" stroke-width="0.8"/>
<line x1="173.8" y1="196.9" x2="131" y2="178.5" stroke="#303030" stroke-width="1.15"/>
<line x1="131" y1="178.5" x2="113" y2="170.5" stroke="#e01414" stroke-width="1.25"/>
<line x1="173.8" y1="196.9" x2="135.9" y2="191.1" stroke="#303030" stroke-width="1.15"/>
<line x1="135.9" y1="191.1" x2="99.4" y2="180.9" stroke="#e01414" stroke-width="1.25"/>
<line x1="135.9" y1="191.1" x2="99.7" y2="179.7" stroke="#e01414" stroke-width="0.8"/>
<line x1="173.8" y1="196.9" x2="138.8" y2="189.6" stroke="#303030" stroke-width="1.15"/>
<line x1="138.8" y1="189.6" x2="119.1" y2="183.1" stroke="#e01414" stroke-width="1.25"/>
<line x1="173.8" y1="196.9" x2="128.6" y2="188.9" stroke="#303030" stroke-width="1.15"/>
<line x1="128.6" y1="188.9" x2="116.9" y2="186.7" stroke="#e01414" stroke-width="1.25"/>
<line x1="128.6" y1="188.9" x2="117.1" y2="185.5" stroke="#e01414" stroke-width="0.8"/>
<line x1="173.8" y1="196.9" x2="125.7" y2="195.5" stroke="#303030" stroke-width="1.15"/>
<line x1="125.7" y1="195.5" x2="97.9" y2="194.7" stroke="#e01414" stroke-width="1.25"/>
<line x1="181.5" y1="201" x2="137" y2="200.5" stroke="#303030" stroke-width="1.15"/>
<line x1="137" y1="200.5" x2="96.8" y2="202.7" stroke="#e01414" stroke-width="1.25"/>
<line x1="181.5" y1="201" x2="129.7" y2="208.7" stroke="#303030" stroke-width="1.15"/>
<line x1="129.7" y1="208.7" x2="100.5" y2="214.2" stroke="#e01414" stroke-width="1.25"/>
<line x1="129.7" y1="208.7" x2="100.3" y2="213" stroke="#e01414" stroke-width="0.8"/>
<line x1="181.5" y1="201" x2="130.5" y2="209.5" stroke="#303030" stroke-width="1.15"/>
<line x1="130.5" y1="209.5" x2="101.5" y2="215.5" stroke="#e01414" stroke-width="1.25"/>
<line x1="181.5" y1="206.5" x2="144.3" y2="219.6" stroke="#303030" stroke-width="1.15"/>
<line x1="144.3" y1="219.6" x2="116" y2="228.8" stroke="#e01414" stroke-width="1.25"/>
<line x1="144.3" y1="219.6" x2="115.6" y2="227.7" stroke="#e01414" stroke-width="0.8"/>
<line x1="181.5" y1="206.5" x2="122.4" y2="236.1" stroke="#303030" stroke-width="1.15"/>
<line x1="122.4" y1="236.1" x2="96.8" y2="247" stroke="#e01414" stroke-width="1.25"/>
<line x1="122.4" y1="236.1" x2="96.3" y2="245.9" stroke="#e01414" stroke-width="0.8"/>
<line x1="181.5" y1="206.5" x2="164.3" y2="216.9" stroke="#303030" stroke-width="1.15"/>
<line x1="164.3" y1="216.9" x2="127.8" y2="237.9" stroke="#e01414" stroke-width="1.25"/>
<line x1="181.5" y1="206.5" x2="155.2" y2="225.1" stroke="#303030" stroke-width="1.15"/>
<line x1="155.2" y1="225.1" x2="122.4" y2="244.3" stroke="#e01414" stroke-width="1.25"/>
<line x1="192.7" y1="203.3" x2="131.5" y2="255.2" stroke="#303030" stroke-width="1.15"/>
<line x1="131.5" y1="255.2" x2="120.5" y2="264.3" stroke="#e01414" stroke-width="1.25"/>
<line x1="192.7" y1="203.3" x2="169.8" y2="226" stroke="#303030" stroke-width="1.15"/>
<line x1="169.8" y1="226" x2="125.1" y2="267.1" stroke="#e01414" stroke-width="1.25"/>
<line x1="192.7" y1="203.3" x2="166.2" y2="231.5" stroke="#303030" stroke-width="1.15"/>
<line x1="166.2" y1="231.5" x2="127.8" y2="268" stroke="#e01414" stroke-width="1.25"/>
<line x1="258.5" y1="235.1" x2="169.6" y2="326.4" stroke="#f25a1e" stroke-width="1.25"/>
<line x1="261.3" y1="239" x2="197.3" y2="313.2" stroke="#303030" stroke-width="1.15"/>
<line x1="197.3" y1="313.2" x2="176.9" y2="334.4" stroke="#f25a1e" stroke-width="1.25"/>
<line x1="261.3" y1="239" x2="198" y2="313.5" stroke="#303030" stroke-width="1.15"/>
<line x1="198" y1="313.5" x2="178.5" y2="333.8" stroke="#f25a1e" stroke-width="1.25"/>
<line x1="261.3" y1="239" x2="203.9" y2="316.2" stroke="#303030" stroke-width="1.15"/>
<line x1="203.9" y1="316.2" x2="190.8" y2="334.4" stroke="#f25a1e" stroke-width="1.25"/>
<line x1="263.5" y1="242.2" x2="206.1" y2="341.7" stroke="#303030" stroke-width="1.15"/>
<line x1="206.1" y1="341.7" x2="201.7" y2="349" stroke="#f25a1e" stroke-width="1.25"/>
<line x1="263.5" y1="242.2" x2="221.4" y2="338" stroke="#303030" stroke-width="1.15"/>
<line x1="221.4" y1="338" x2="220" y2="341" stroke="#f25a1e" stroke-width="1.25"/>
<line x1="263.5" y1="242.2" x2="225.7" y2="369.3" stroke="#303030" stroke-width="1.15"/>
<line x1="263.5" y1="242.2" x2="247.9" y2="306.6" stroke="#303030" stroke-width="1.15"/>
<line x1="247.9" y1="306.6" x2="237.7" y2="361" stroke="#f7941d" stroke-width="1.25"/>
<line x1="263.5" y1="242.2" x2="243" y2="347.5" stroke="#303030" stroke-width="1.15"/>
<line x1="243" y1="347.5" x2="238.6" y2="371.6" stroke="#f7941d" stroke-width="1.25"/>
<line x1="270.5" y1="262" x2="271" y2="330" stroke="#303030" stroke-width="1.15"/>
<line x1="271" y1="330" x2="267.8" y2="356.3" stroke="#f7941d" stroke-width="1.25"/>
<line x1="270.5" y1="262" x2="272.5" y2="330" stroke="#303030" stroke-width="1.15"/>
<line x1="272.5" y1="330" x2="273.7" y2="364.3" stroke="#f7941d" stroke-width="1.25"/>
<line x1="270.5" y1="262" x2="286.8" y2="354.8" stroke="#303030" stroke-width="1.15"/>
<line x1="286.8" y1="354.8" x2="289" y2="364.3" stroke="#f7941d" stroke-width="1.25"/>
<line x1="270.5" y1="262" x2="282" y2="292" stroke="#303030" stroke-width="1.15"/>
<line x1="282" y1="292" x2="307.3" y2="362.8" stroke="#f7941d" stroke-width="1.25"/>
<line x1="270.5" y1="262" x2="296.1" y2="311.8" stroke="#303030" stroke-width="1.15"/>
<line x1="296.1" y1="311.8" x2="310.9" y2="349" stroke="#303030" stroke-width="1.15"/>
<line x1="310.9" y1="349" x2="313" y2="354" stroke="#f7941d" stroke-width="1.25"/>
<line x1="296.1" y1="311.8" x2="311.7" y2="340.6" stroke="#303030" stroke-width="1.15"/>
<line x1="311.7" y1="340.6" x2="320.4" y2="357.1" stroke="#f7941d" stroke-width="1.25"/>
<line x1="270.5" y1="262" x2="320.2" y2="317.1" stroke="#303030" stroke-width="1.15"/>
<line x1="320.2" y1="317.1" x2="329.5" y2="331.9" stroke="#f7941d" stroke-width="1.25"/>
<line x1="320.2" y1="317.1" x2="337.9" y2="327.9" stroke="#f7941d" stroke-width="1.25"/>
<line x1="270.5" y1="262" x2="304.1" y2="291.7" stroke="#303030" stroke-width="1.15"/>
<line x1="304.1" y1="291.7" x2="338.9" y2="329.2" stroke="#f7941d" stroke-width="1.25"/>
<line x1="304.1" y1="291.7" x2="338.9" y2="321.8" stroke="#f7941d" stroke-width="1.25"/>
<line x1="291.2" y1="247" x2="367.6" y2="226.2" stroke="#303030" stroke-width="1.15"/>
<line x1="367.6" y1="226.2" x2="388.9" y2="221" stroke="#f7b51c" stroke-width="1.25"/>
<line x1="291.2" y1="247" x2="322.4" y2="241" stroke="#303030" stroke-width="1.15"/>
<line x1="322.4" y1="241" x2="378.6" y2="231.2" stroke="#f7b51c" stroke-width="1.25"/>
<line x1="291.2" y1="247" x2="364.9" y2="245.4" stroke="#303030" stroke-width="1.15"/>
<line x1="364.9" y1="245.4" x2="393.8" y2="243.4" stroke="#f7b51c" stroke-width="1.25"/>
<line x1="364.9" y1="245.4" x2="395.3" y2="246.6" stroke="#f7b51c" stroke-width="1.25"/>
<line x1="364.9" y1="245.4" x2="393.6" y2="242.7" stroke="#f7b51c" stroke-width="1.25"/>
<line x1="291.2" y1="247" x2="293.5" y2="247.2" stroke="#303030" stroke-width="1.15"/>
<line x1="293.5" y1="247.2" x2="378" y2="256.8" stroke="#f7b51c" stroke-width="1.25"/>
<line x1="291.2" y1="247" x2="293.5" y2="247.4" stroke="#303030" stroke-width="1.15"/>
<line x1="293.5" y1="247.4" x2="373.1" y2="260.9" stroke="#f7b51c" stroke-width="1.25"/>
<line x1="291.2" y1="247" x2="293.5" y2="247.6" stroke="#303030" stroke-width="1.15"/>
<line x1="293.5" y1="247.6" x2="373.1" y2="265.8" stroke="#f7b51c" stroke-width="1.25"/>
<line x1="291.2" y1="247" x2="293.5" y2="247.8" stroke="#303030" stroke-width="1.15"/>
<line x1="293.5" y1="247.8" x2="368.2" y2="269.9" stroke="#f7b51c" stroke-width="1.25"/>
<line x1="291.2" y1="247" x2="353.5" y2="273.2" stroke="#303030" stroke-width="1.15"/>
<line x1="353.5" y1="273.2" x2="371.5" y2="281.4" stroke="#f7b51c" stroke-width="1.25"/>
<line x1="353.5" y1="273.2" x2="370" y2="279.6" stroke="#f7b51c" stroke-width="1.25"/>
<line x1="283.1" y1="247" x2="304.4" y2="260.9" stroke="#303030" stroke-width="1.15"/>
<line x1="304.4" y1="260.9" x2="368.2" y2="292" stroke="#f7b51c" stroke-width="1.25"/>
<line x1="304.4" y1="260.9" x2="360" y2="294.5" stroke="#f7b51c" stroke-width="1.25"/>
<line x1="283.1" y1="247" x2="343.6" y2="290.4" stroke="#303030" stroke-width="1.15"/>
<line x1="343.6" y1="290.4" x2="360" y2="302.6" stroke="#f7b51c" stroke-width="1.25"/>
<text x="218.4" y="28.7" fill="#12e012" stroke="#0a9a0a" stroke-width="1.3" class="lb" paint-order="stroke" textLength="48.1" lengthAdjust="spacingAndGlyphs">GT 1</text>
<text x="359.4" y="28.7" fill="#4b1877" stroke="#4b1877" stroke-width="1.3" class="lb" paint-order="stroke" textLength="48" lengthAdjust="spacingAndGlyphs">GT 5</text>
<text x="75" y="93.6" fill="#6a22a6" stroke="#6a22a6" stroke-width="1.3" class="lb" paint-order="stroke" textLength="47.6" lengthAdjust="spacingAndGlyphs">GT 3</text>
<text x="498.1" y="93.6" fill="#0c0cf0" stroke="#0c0cf0" stroke-width="1.3" class="lb" paint-order="stroke" textLength="48.5" lengthAdjust="spacingAndGlyphs">GT 2</text>
<text x="7.8" y="225.3" fill="#ec0c0c" stroke="#ec0c0c" stroke-width="1.3" class="lb" paint-order="stroke" textLength="48.4" lengthAdjust="spacingAndGlyphs">GT 4</text>
<text x="439" y="234.1" fill="#f2f000" stroke="#8c8800" stroke-width="1.2" class="lb" paint-order="stroke" textLength="48.3" lengthAdjust="spacingAndGlyphs">GT 7</text>
<text x="373.9" y="353.1" fill="#f0b400" stroke="#9c6e00" stroke-width="1.2" class="lb" paint-order="stroke" textLength="48.5" lengthAdjust="spacingAndGlyphs">GT 6</text>
<line x1="276.9" y1="389.5" x2="309.8" y2="389.5" stroke="#4a4a4a" stroke-width="1.0"/>
<text x="282.1" y="404.2" class="sc" textLength="24.0" lengthAdjust="spacingAndGlyphs">0.03</text>
</svg>
</body></html>
